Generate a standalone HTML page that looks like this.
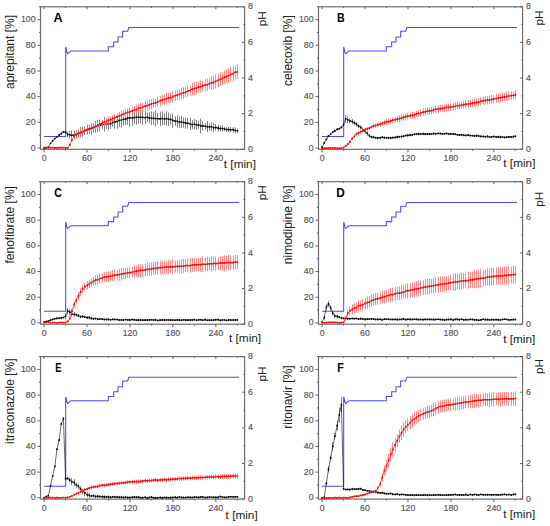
<!DOCTYPE html>
<html><head><meta charset="utf-8"><style>
html,body{margin:0;padding:0;background:#fff;}
svg{display:block;}
text{font-family:"Liberation Sans",sans-serif;}
.tl{font-size:8.8px;fill:#555;stroke:#555;stroke-width:0.15px;}
.xt{font-size:11.8px;fill:#222;}
.ph{font-size:11.8px;fill:#222;}
.yt{font-size:12px;fill:#222;}
.let{font-size:12.5px;font-weight:bold;fill:#000;}
</style></head><body>
<svg width="550" height="526" viewBox="0 0 550 526">
<rect width="550" height="526" fill="#fff"/>
<g transform="translate(0,0)">
<rect x="40.5" y="6.8" width="204.1" height="142.5" fill="none" stroke="#6e6e6e" stroke-width="1.2"/>
<path d="M37.5,148.00H40.5M39.0,135.16H40.5M37.5,122.32H40.5M39.0,109.49H40.5M37.5,96.65H40.5M39.0,83.81H40.5M37.5,70.97H40.5M39.0,58.13H40.5M37.5,45.30H40.5M39.0,32.46H40.5M37.5,19.62H40.5M39.0,6.78H40.5M242.1,149.30H244.6M243.3,131.49H244.6M242.1,113.68H244.6M243.3,95.86H244.6M242.1,78.05H244.6M243.3,60.24H244.6M242.1,42.43H244.6M243.3,24.61H244.6M242.1,6.80H244.6M44.08,149.3V152.3M44.08,6.8V9.2M65.55,149.3V150.8M65.55,6.8V8.0M87.03,149.3V152.3M87.03,6.8V9.2M108.50,149.3V150.8M108.50,6.8V8.0M129.98,149.3V152.3M129.98,6.8V9.2M151.45,149.3V150.8M151.45,6.8V8.0M172.92,149.3V152.3M172.92,6.8V9.2M194.40,149.3V150.8M194.40,6.8V8.0M215.87,149.3V152.3M215.87,6.8V9.2M237.35,149.3V150.8M237.35,6.8V8.0" stroke="#5e5e5e" stroke-width="1" fill="none"/>
<text x="35.6" y="150.5" text-anchor="end" class="tl">0</text>
<text x="35.6" y="124.8" text-anchor="end" class="tl">20</text>
<text x="35.6" y="99.1" text-anchor="end" class="tl">40</text>
<text x="35.6" y="73.5" text-anchor="end" class="tl">60</text>
<text x="35.6" y="47.8" text-anchor="end" class="tl">80</text>
<text x="35.6" y="22.1" text-anchor="end" class="tl">100</text>
<text x="44.1" y="160.8" text-anchor="middle" class="tl">0</text>
<text x="87.0" y="160.8" text-anchor="middle" class="tl">60</text>
<text x="130.0" y="160.8" text-anchor="middle" class="tl">120</text>
<text x="172.9" y="160.8" text-anchor="middle" class="tl">180</text>
<text x="215.9" y="160.8" text-anchor="middle" class="tl">240</text>
<text x="248" y="151.9" class="tl">0</text>
<text x="248" y="116.3" class="tl">2</text>
<text x="248" y="80.7" class="tl">4</text>
<text x="248" y="45.0" class="tl">6</text>
<text x="248" y="9.4" class="tl">8</text>
<text x="223.8" y="167.6" class="xt">t [min]</text>
<text transform="translate(265.75,18.7) rotate(-90)" text-anchor="middle" class="ph">pH</text>
<text transform="translate(13.6,52) rotate(-90)" text-anchor="middle" class="yt">aprepitant [%]</text>
<text transform="translate(53.5,22.15) scale(1.0,1)" class="let">A</text>
<path d="M44.0,136.4 L65.7,136.4 L65.7,47.0 L66.4,49.5 L67.0,52.5 L67.6,53.6 L68.6,53.0 L70.0,51.6 L71.2,50.9 L108.3,50.9 L108.3,46.7 L113.7,46.7 L113.7,42.0 L118.0,42.0 L118.0,37.0 L122.7,37.0 L122.7,31.3 L127.7,31.3 L128.8,27.5 L239.0,27.5" stroke="#4848ff" stroke-width="1.05" fill="none"/>
<path d="M52.5,140.02V141.32M54.5,137.74V139.37M56.5,136.16V137.50M59.5,134.29V135.91M61.5,132.40V134.94M63.5,130.81V133.08M65.5,130.80V133.53M67.5,131.74V137.36M69.5,131.05V138.61M71.5,130.49V140.10M74.5,130.37V139.42M76.5,130.11V138.24M78.5,129.39V137.36M80.5,127.06V137.50M82.5,126.92V137.00M84.5,126.22V135.04M87.5,125.09V134.66M89.5,124.69V134.02M91.5,123.19V134.80M93.5,123.34V132.49M95.5,120.98V132.54M97.5,119.72V132.19M99.5,119.40V131.35M102.5,120.02V129.61M104.5,117.11V131.52M106.5,118.82V129.27M108.5,117.19V130.34M110.5,118.13V128.96M112.5,117.94V126.74M114.5,115.15V128.82M117.5,114.36V128.50M119.5,113.61V127.16M121.5,112.68V127.37M123.5,113.16V125.47M125.5,113.08V125.11M127.5,111.46V124.86M129.5,108.42V126.93M132.5,110.15V125.88M134.5,111.45V123.83M136.5,109.69V124.66M138.5,111.08V123.46M140.5,111.18V123.56M142.5,109.64V125.16M145.5,111.64V123.76M147.5,112.64V121.95M149.5,112.28V123.39M151.5,111.53V124.96M153.5,111.62V125.08M155.5,110.52V126.56M157.5,113.00V124.37M160.5,111.55V126.26M162.5,111.56V125.38M164.5,112.87V125.20M166.5,111.38V125.77M168.5,112.56V126.00M170.5,114.30V124.60M172.5,113.39V127.74M175.5,116.46V125.72M177.5,115.29V127.13M179.5,116.33V127.88M181.5,115.90V128.15M183.5,117.79V127.55M185.5,117.63V128.63M187.5,117.99V128.62M190.5,117.63V130.30M192.5,120.08V129.15M194.5,119.01V129.57M196.5,120.15V129.93M198.5,121.27V129.00M200.5,118.58V133.19M202.5,121.23V130.63M205.5,122.93V129.66M207.5,121.07V132.15M209.5,123.41V130.27M211.5,122.45V131.14M213.5,123.21V132.23M215.5,124.13V130.72M218.5,124.81V131.38M220.5,125.44V131.55M222.5,125.35V131.63M224.5,126.87V131.18M226.5,127.33V131.80M228.5,126.99V132.27M230.5,126.75V132.79M233.5,127.00V132.31M235.5,127.51V133.32M237.5,128.52V133.13" stroke="#5a5a5a" stroke-width="0.75" fill="none"/>
<path d="M44.08,148.18 L46.23,147.65 L48.37,147.34 L50.52,143.30 L52.67,140.67 L54.82,138.56 L56.96,136.83 L59.11,135.10 L61.26,133.67 L63.41,131.95 L65.55,132.17 L67.70,134.55 L69.85,134.83 L72.00,135.29 L74.14,134.90 L76.29,134.17 L78.44,133.37 L80.59,132.28 L82.73,131.96 L84.88,130.63 L87.03,129.88 L89.18,129.36 L91.32,129.00 L93.47,127.92 L95.62,126.76 L97.77,125.95 L99.91,125.37 L102.06,124.82 L104.21,124.32 L106.35,124.05 L108.50,123.77 L110.65,123.55 L112.80,122.34 L114.94,121.99 L117.09,121.43 L119.24,120.38 L121.39,120.02 L123.53,119.31 L125.68,119.10 L127.83,118.16 L129.98,117.68 L132.12,118.02 L134.27,117.64 L136.42,117.18 L138.57,117.27 L140.71,117.37 L142.86,117.40 L145.01,117.70 L147.16,117.30 L149.30,117.83 L151.45,118.25 L153.60,118.35 L155.74,118.54 L157.89,118.68 L160.04,118.90 L162.19,118.47 L164.33,119.03 L166.48,118.58 L168.63,119.28 L170.78,119.45 L172.92,120.56 L175.07,121.09 L177.22,121.21 L179.37,122.10 L181.51,122.03 L183.66,122.67 L185.81,123.13 L187.96,123.30 L190.10,123.96 L192.25,124.62 L194.40,124.29 L196.55,125.04 L198.69,125.14 L200.84,125.88 L202.99,125.93 L205.13,126.30 L207.28,126.61 L209.43,126.84 L211.58,126.79 L213.72,127.72 L215.87,127.43 L218.02,128.10 L220.17,128.49 L222.31,128.49 L224.46,129.02 L226.61,129.57 L228.76,129.63 L230.90,129.77 L233.05,129.65 L235.20,130.41 L237.35,130.82" stroke="#000" stroke-width="0.6" fill="none" stroke-linejoin="round"/>
<path d="M43.28,147.38h1.6v1.6h-1.6zM45.43,146.85h1.6v1.6h-1.6zM47.57,146.54h1.6v1.6h-1.6zM49.72,142.50h1.6v1.6h-1.6zM51.87,139.87h1.6v1.6h-1.6zM54.02,137.76h1.6v1.6h-1.6zM56.16,136.03h1.6v1.6h-1.6zM58.31,134.30h1.6v1.6h-1.6zM60.46,132.87h1.6v1.6h-1.6zM62.61,131.15h1.6v1.6h-1.6zM64.75,131.37h1.6v1.6h-1.6zM66.90,133.75h1.6v1.6h-1.6zM69.05,134.03h1.6v1.6h-1.6zM71.20,134.49h1.6v1.6h-1.6zM73.34,134.10h1.6v1.6h-1.6zM75.49,133.37h1.6v1.6h-1.6zM77.64,132.57h1.6v1.6h-1.6zM79.79,131.48h1.6v1.6h-1.6zM81.93,131.16h1.6v1.6h-1.6zM84.08,129.83h1.6v1.6h-1.6zM86.23,129.08h1.6v1.6h-1.6zM88.38,128.56h1.6v1.6h-1.6zM90.52,128.20h1.6v1.6h-1.6zM92.67,127.12h1.6v1.6h-1.6zM94.82,125.96h1.6v1.6h-1.6zM96.97,125.15h1.6v1.6h-1.6zM99.11,124.57h1.6v1.6h-1.6zM101.26,124.02h1.6v1.6h-1.6zM103.41,123.52h1.6v1.6h-1.6zM105.55,123.25h1.6v1.6h-1.6zM107.70,122.97h1.6v1.6h-1.6zM109.85,122.75h1.6v1.6h-1.6zM112.00,121.54h1.6v1.6h-1.6zM114.14,121.19h1.6v1.6h-1.6zM116.29,120.63h1.6v1.6h-1.6zM118.44,119.58h1.6v1.6h-1.6zM120.59,119.22h1.6v1.6h-1.6zM122.73,118.51h1.6v1.6h-1.6zM124.88,118.30h1.6v1.6h-1.6zM127.03,117.36h1.6v1.6h-1.6zM129.18,116.88h1.6v1.6h-1.6zM131.32,117.22h1.6v1.6h-1.6zM133.47,116.84h1.6v1.6h-1.6zM135.62,116.38h1.6v1.6h-1.6zM137.77,116.47h1.6v1.6h-1.6zM139.91,116.57h1.6v1.6h-1.6zM142.06,116.60h1.6v1.6h-1.6zM144.21,116.90h1.6v1.6h-1.6zM146.36,116.50h1.6v1.6h-1.6zM148.50,117.03h1.6v1.6h-1.6zM150.65,117.45h1.6v1.6h-1.6zM152.80,117.55h1.6v1.6h-1.6zM154.94,117.74h1.6v1.6h-1.6zM157.09,117.88h1.6v1.6h-1.6zM159.24,118.10h1.6v1.6h-1.6zM161.39,117.67h1.6v1.6h-1.6zM163.53,118.23h1.6v1.6h-1.6zM165.68,117.78h1.6v1.6h-1.6zM167.83,118.48h1.6v1.6h-1.6zM169.98,118.65h1.6v1.6h-1.6zM172.12,119.76h1.6v1.6h-1.6zM174.27,120.29h1.6v1.6h-1.6zM176.42,120.41h1.6v1.6h-1.6zM178.57,121.30h1.6v1.6h-1.6zM180.71,121.23h1.6v1.6h-1.6zM182.86,121.87h1.6v1.6h-1.6zM185.01,122.33h1.6v1.6h-1.6zM187.16,122.50h1.6v1.6h-1.6zM189.30,123.16h1.6v1.6h-1.6zM191.45,123.82h1.6v1.6h-1.6zM193.60,123.49h1.6v1.6h-1.6zM195.75,124.24h1.6v1.6h-1.6zM197.89,124.34h1.6v1.6h-1.6zM200.04,125.08h1.6v1.6h-1.6zM202.19,125.13h1.6v1.6h-1.6zM204.33,125.50h1.6v1.6h-1.6zM206.48,125.81h1.6v1.6h-1.6zM208.63,126.04h1.6v1.6h-1.6zM210.78,125.99h1.6v1.6h-1.6zM212.92,126.92h1.6v1.6h-1.6zM215.07,126.63h1.6v1.6h-1.6zM217.22,127.30h1.6v1.6h-1.6zM219.37,127.69h1.6v1.6h-1.6zM221.51,127.69h1.6v1.6h-1.6zM223.66,128.22h1.6v1.6h-1.6zM225.81,128.77h1.6v1.6h-1.6zM227.96,128.83h1.6v1.6h-1.6zM230.10,128.97h1.6v1.6h-1.6zM232.25,128.85h1.6v1.6h-1.6zM234.40,129.61h1.6v1.6h-1.6zM236.55,130.02h1.6v1.6h-1.6z" fill="#000"/>
<path d="M69.5,143.53V146.08M71.5,138.10V142.06M74.5,133.84V137.99M76.5,132.61V136.98M78.5,131.33V136.07M80.5,130.04V135.09M82.5,129.26V133.74M84.5,128.11V132.88M87.5,127.22V132.02M89.5,126.38V131.31M91.5,125.57V130.51M93.5,124.41V130.04M95.5,123.55V128.91M97.5,121.94V128.22M99.5,121.06V127.33M102.5,120.19V126.06M104.5,119.11V125.16M106.5,118.36V124.73M108.5,116.61V123.85M110.5,116.32V122.99M112.5,115.12V121.74M114.5,113.98V121.31M117.5,113.05V120.73M119.5,112.12V119.59M121.5,110.75V119.32M123.5,109.95V118.17M125.5,108.93V117.43M127.5,108.37V116.51M129.5,107.23V115.91M132.5,106.72V115.54M134.5,106.04V114.10M136.5,104.86V114.27M138.5,103.80V112.42M140.5,102.94V112.55M142.5,102.57V111.57M145.5,100.79V111.58M147.5,100.61V110.66M149.5,99.61V110.01M151.5,98.65V109.17M153.5,98.52V108.00M155.5,98.33V107.39M157.5,96.66V106.81M160.5,95.56V106.43M162.5,94.87V105.41M164.5,93.99V104.98M166.5,92.95V104.11M168.5,92.97V102.92M170.5,92.09V103.08M172.5,90.60V102.59M175.5,90.41V101.10M177.5,90.06V100.03M179.5,88.86V99.90M181.5,87.91V98.91M183.5,87.06V98.64M185.5,86.47V97.39M187.5,85.25V96.82M190.5,85.34V95.66M192.5,83.03V95.22M194.5,82.27V94.98M196.5,81.70V94.33M198.5,81.59V92.63M200.5,80.36V92.62M202.5,80.48V90.89M205.5,78.67V91.25M207.5,78.46V91.00M209.5,77.63V89.74M211.5,76.29V89.42M213.5,75.74V88.92M215.5,74.33V88.21M218.5,73.71V87.22M220.5,72.53V86.28M222.5,72.41V84.84M224.5,70.63V83.76M226.5,69.66V83.43M228.5,68.24V82.72M230.5,67.09V81.53M233.5,65.82V81.52M235.5,65.34V79.47M237.5,64.42V79.19" stroke="#ff7b7b" stroke-width="0.9" fill="none"/>
<path d="M44.08,147.72 L46.23,147.78 L48.37,147.50 L50.52,147.66 L52.67,147.65 L54.82,147.84 L56.96,147.90 L59.11,147.72 L61.26,147.71 L63.41,147.57 L65.55,147.78 L67.70,147.84 L69.85,144.80 L72.00,140.08 L74.14,135.92 L76.29,134.80 L78.44,133.70 L80.59,132.56 L82.73,131.50 L84.88,130.49 L87.03,129.62 L89.18,128.85 L91.32,128.04 L93.47,127.23 L95.62,126.23 L97.77,125.08 L99.91,124.20 L102.06,123.12 L104.21,122.13 L106.35,121.55 L108.50,120.23 L110.65,119.66 L112.80,118.43 L114.94,117.64 L117.09,116.89 L119.24,115.86 L121.39,115.03 L123.53,114.06 L125.68,113.18 L127.83,112.44 L129.98,111.57 L132.12,111.13 L134.27,110.07 L136.42,109.56 L138.57,108.11 L140.71,107.75 L142.86,107.07 L145.01,106.18 L147.16,105.63 L149.30,104.81 L151.45,103.91 L153.60,103.26 L155.74,102.86 L157.89,101.74 L160.04,101.00 L162.19,100.14 L164.33,99.48 L166.48,98.53 L168.63,97.95 L170.78,97.59 L172.92,96.60 L175.07,95.76 L177.22,95.05 L179.37,94.38 L181.51,93.41 L183.66,92.85 L185.81,91.93 L187.96,91.03 L190.10,90.50 L192.25,89.12 L194.40,88.63 L196.55,88.01 L198.69,87.11 L200.84,86.49 L202.99,85.69 L205.13,84.96 L207.28,84.73 L209.43,83.69 L211.58,82.86 L213.72,82.33 L215.87,81.27 L218.02,80.46 L220.17,79.41 L222.31,78.63 L224.46,77.19 L226.61,76.55 L228.76,75.48 L230.90,74.31 L233.05,73.67 L235.20,72.40 L237.35,71.80" stroke="#f00" stroke-width="0.7" fill="none" stroke-linejoin="round"/>
<path d="M43.23,146.87h1.7v1.7h-1.7zM45.38,146.93h1.7v1.7h-1.7zM47.52,146.65h1.7v1.7h-1.7zM49.67,146.81h1.7v1.7h-1.7zM51.82,146.80h1.7v1.7h-1.7zM53.97,146.99h1.7v1.7h-1.7zM56.11,147.05h1.7v1.7h-1.7zM58.26,146.87h1.7v1.7h-1.7zM60.41,146.86h1.7v1.7h-1.7zM62.56,146.72h1.7v1.7h-1.7zM64.70,146.93h1.7v1.7h-1.7zM66.85,146.99h1.7v1.7h-1.7zM69.00,143.95h1.7v1.7h-1.7zM71.15,139.23h1.7v1.7h-1.7zM73.29,135.07h1.7v1.7h-1.7zM75.44,133.95h1.7v1.7h-1.7zM77.59,132.85h1.7v1.7h-1.7zM79.74,131.71h1.7v1.7h-1.7zM81.88,130.65h1.7v1.7h-1.7zM84.03,129.64h1.7v1.7h-1.7zM86.18,128.77h1.7v1.7h-1.7zM88.33,128.00h1.7v1.7h-1.7zM90.47,127.19h1.7v1.7h-1.7zM92.62,126.38h1.7v1.7h-1.7zM94.77,125.38h1.7v1.7h-1.7zM96.92,124.23h1.7v1.7h-1.7zM99.06,123.35h1.7v1.7h-1.7zM101.21,122.27h1.7v1.7h-1.7zM103.36,121.28h1.7v1.7h-1.7zM105.50,120.70h1.7v1.7h-1.7zM107.65,119.38h1.7v1.7h-1.7zM109.80,118.81h1.7v1.7h-1.7zM111.95,117.58h1.7v1.7h-1.7zM114.09,116.79h1.7v1.7h-1.7zM116.24,116.04h1.7v1.7h-1.7zM118.39,115.01h1.7v1.7h-1.7zM120.54,114.18h1.7v1.7h-1.7zM122.68,113.21h1.7v1.7h-1.7zM124.83,112.33h1.7v1.7h-1.7zM126.98,111.59h1.7v1.7h-1.7zM129.13,110.72h1.7v1.7h-1.7zM131.27,110.28h1.7v1.7h-1.7zM133.42,109.22h1.7v1.7h-1.7zM135.57,108.71h1.7v1.7h-1.7zM137.72,107.26h1.7v1.7h-1.7zM139.86,106.90h1.7v1.7h-1.7zM142.01,106.22h1.7v1.7h-1.7zM144.16,105.33h1.7v1.7h-1.7zM146.31,104.78h1.7v1.7h-1.7zM148.45,103.96h1.7v1.7h-1.7zM150.60,103.06h1.7v1.7h-1.7zM152.75,102.41h1.7v1.7h-1.7zM154.89,102.01h1.7v1.7h-1.7zM157.04,100.89h1.7v1.7h-1.7zM159.19,100.15h1.7v1.7h-1.7zM161.34,99.29h1.7v1.7h-1.7zM163.48,98.63h1.7v1.7h-1.7zM165.63,97.68h1.7v1.7h-1.7zM167.78,97.10h1.7v1.7h-1.7zM169.93,96.74h1.7v1.7h-1.7zM172.07,95.75h1.7v1.7h-1.7zM174.22,94.91h1.7v1.7h-1.7zM176.37,94.20h1.7v1.7h-1.7zM178.52,93.53h1.7v1.7h-1.7zM180.66,92.56h1.7v1.7h-1.7zM182.81,92.00h1.7v1.7h-1.7zM184.96,91.08h1.7v1.7h-1.7zM187.11,90.18h1.7v1.7h-1.7zM189.25,89.65h1.7v1.7h-1.7zM191.40,88.27h1.7v1.7h-1.7zM193.55,87.78h1.7v1.7h-1.7zM195.70,87.16h1.7v1.7h-1.7zM197.84,86.26h1.7v1.7h-1.7zM199.99,85.64h1.7v1.7h-1.7zM202.14,84.84h1.7v1.7h-1.7zM204.28,84.11h1.7v1.7h-1.7zM206.43,83.88h1.7v1.7h-1.7zM208.58,82.84h1.7v1.7h-1.7zM210.73,82.01h1.7v1.7h-1.7zM212.87,81.48h1.7v1.7h-1.7zM215.02,80.42h1.7v1.7h-1.7zM217.17,79.61h1.7v1.7h-1.7zM219.32,78.56h1.7v1.7h-1.7zM221.46,77.78h1.7v1.7h-1.7zM223.61,76.34h1.7v1.7h-1.7zM225.76,75.70h1.7v1.7h-1.7zM227.91,74.63h1.7v1.7h-1.7zM230.05,73.46h1.7v1.7h-1.7zM232.20,72.82h1.7v1.7h-1.7zM234.35,71.55h1.7v1.7h-1.7zM236.50,70.95h1.7v1.7h-1.7z" fill="#f00"/>
</g>
<g transform="translate(278,0)">
<rect x="40.5" y="6.8" width="204.1" height="142.5" fill="none" stroke="#6e6e6e" stroke-width="1.2"/>
<path d="M37.5,148.00H40.5M39.0,135.16H40.5M37.5,122.32H40.5M39.0,109.49H40.5M37.5,96.65H40.5M39.0,83.81H40.5M37.5,70.97H40.5M39.0,58.13H40.5M37.5,45.30H40.5M39.0,32.46H40.5M37.5,19.62H40.5M39.0,6.78H40.5M242.1,149.30H244.6M243.3,131.49H244.6M242.1,113.68H244.6M243.3,95.86H244.6M242.1,78.05H244.6M243.3,60.24H244.6M242.1,42.43H244.6M243.3,24.61H244.6M242.1,6.80H244.6M44.08,149.3V152.3M44.08,6.8V9.2M65.55,149.3V150.8M65.55,6.8V8.0M87.03,149.3V152.3M87.03,6.8V9.2M108.50,149.3V150.8M108.50,6.8V8.0M129.98,149.3V152.3M129.98,6.8V9.2M151.45,149.3V150.8M151.45,6.8V8.0M172.92,149.3V152.3M172.92,6.8V9.2M194.40,149.3V150.8M194.40,6.8V8.0M215.87,149.3V152.3M215.87,6.8V9.2M237.35,149.3V150.8M237.35,6.8V8.0" stroke="#5e5e5e" stroke-width="1" fill="none"/>
<text x="35.6" y="150.5" text-anchor="end" class="tl">0</text>
<text x="35.6" y="124.8" text-anchor="end" class="tl">20</text>
<text x="35.6" y="99.1" text-anchor="end" class="tl">40</text>
<text x="35.6" y="73.5" text-anchor="end" class="tl">60</text>
<text x="35.6" y="47.8" text-anchor="end" class="tl">80</text>
<text x="35.6" y="22.1" text-anchor="end" class="tl">100</text>
<text x="44.1" y="160.8" text-anchor="middle" class="tl">0</text>
<text x="87.0" y="160.8" text-anchor="middle" class="tl">60</text>
<text x="130.0" y="160.8" text-anchor="middle" class="tl">120</text>
<text x="172.9" y="160.8" text-anchor="middle" class="tl">180</text>
<text x="215.9" y="160.8" text-anchor="middle" class="tl">240</text>
<text x="248" y="151.9" class="tl">0</text>
<text x="248" y="116.3" class="tl">2</text>
<text x="248" y="80.7" class="tl">4</text>
<text x="248" y="45.0" class="tl">6</text>
<text x="248" y="9.4" class="tl">8</text>
<text x="225.3" y="166.6" class="xt">t [min]</text>
<text transform="translate(264.85,17.95) rotate(-90)" text-anchor="middle" class="ph">pH</text>
<text transform="translate(13.6,50.6) rotate(-90)" text-anchor="middle" class="yt">celecoxib [%]</text>
<text transform="translate(59.0,22.15) scale(0.85,1)" class="let">B</text>
<path d="M44.0,136.4 L65.7,136.4 L65.7,47.0 L66.4,49.5 L67.0,52.5 L67.6,53.6 L68.6,53.0 L70.0,51.6 L71.2,50.9 L108.3,50.9 L108.3,46.7 L113.7,46.7 L113.7,42.0 L118.0,42.0 L118.0,37.0 L122.7,37.0 L122.7,31.3 L127.7,31.3 L128.8,27.5 L239.0,27.5" stroke="#4848ff" stroke-width="1.05" fill="none"/>
<path d="M44.5,146.52V147.76M48.5,138.76V140.04M50.5,135.12V136.61M52.5,133.52V134.90M54.5,130.99V132.87M56.5,129.31V132.38M59.5,128.30V130.40M61.5,127.46V130.19M63.5,126.15V128.51M65.5,122.45V126.50M67.5,114.99V122.55M69.5,116.45V123.13M71.5,118.40V123.35M74.5,118.82V124.21M76.5,120.55V124.97M78.5,122.02V126.32M80.5,124.14V128.17M82.5,125.45V129.34M84.5,127.33V132.04M87.5,128.98V133.69M89.5,131.21V135.64M91.5,133.91V137.58M93.5,135.63V138.23M95.5,135.68V138.74M97.5,136.59V138.89M99.5,136.54V139.34M102.5,136.51V139.14M104.5,135.87V138.58M106.5,136.54V138.77M108.5,136.90V138.50M110.5,136.47V139.24M112.5,136.55V139.44M114.5,136.76V138.49M117.5,136.22V138.63M119.5,135.46V138.30M121.5,135.81V137.69M123.5,135.01V138.08M125.5,135.20V137.38M127.5,134.52V136.39M129.5,133.90V136.79M132.5,133.90V136.33M134.5,133.97V136.00M136.5,132.94V135.60M138.5,133.28V134.77M140.5,132.42V135.45M142.5,132.98V134.92M145.5,132.63V135.02M147.5,133.04V135.14M149.5,132.87V135.30M151.5,132.64V135.25M153.5,133.04V134.95M155.5,132.29V134.85M157.5,132.64V134.75M160.5,132.49V134.44M162.5,132.46V134.59M164.5,133.01V134.82M166.5,132.82V134.72M168.5,132.21V134.79M170.5,132.92V135.05M172.5,132.70V135.34M175.5,132.80V135.15M177.5,133.38V135.15M179.5,134.08V135.51M181.5,134.16V136.06M183.5,133.66V135.92M185.5,134.20V136.36M187.5,134.56V136.39M190.5,133.85V136.38M192.5,134.79V136.25M194.5,134.86V136.50M196.5,134.80V136.97M198.5,134.14V137.09M200.5,134.86V137.12M202.5,135.54V137.26M205.5,135.39V137.71M207.5,135.60V137.95M209.5,135.18V137.61M211.5,136.02V137.95M213.5,135.93V137.71M215.5,135.42V137.53M218.5,135.92V138.13M220.5,135.53V138.18M222.5,135.71V138.53M224.5,136.18V137.95M226.5,136.50V138.34M228.5,136.17V138.18M230.5,135.91V137.84M233.5,135.88V138.07M235.5,135.55V137.73M237.5,135.27V137.36" stroke="#5a5a5a" stroke-width="0.75" fill="none"/>
<path d="M44.08,147.14 L46.23,143.14 L48.37,139.40 L50.52,135.87 L52.67,134.21 L54.82,131.93 L56.96,130.85 L59.11,129.35 L61.26,128.82 L63.41,127.33 L65.55,124.48 L67.70,118.77 L69.85,119.79 L72.00,120.88 L74.14,121.52 L76.29,122.76 L78.44,124.17 L80.59,126.16 L82.73,127.39 L84.88,129.69 L87.03,131.33 L89.18,133.42 L91.32,135.74 L93.47,136.93 L95.62,137.21 L97.77,137.74 L99.91,137.94 L102.06,137.82 L104.21,137.23 L106.35,137.65 L108.50,137.70 L110.65,137.85 L112.80,138.00 L114.94,137.62 L117.09,137.43 L119.24,136.88 L121.39,136.75 L123.53,136.54 L125.68,136.29 L127.83,135.46 L129.98,135.35 L132.12,135.11 L134.27,134.98 L136.42,134.27 L138.57,134.02 L140.71,133.93 L142.86,133.95 L145.01,133.82 L147.16,134.09 L149.30,134.08 L151.45,133.95 L153.60,133.99 L155.74,133.57 L157.89,133.70 L160.04,133.47 L162.19,133.52 L164.33,133.91 L166.48,133.77 L168.63,133.50 L170.78,133.99 L172.92,134.02 L175.07,133.97 L177.22,134.27 L179.37,134.80 L181.51,135.11 L183.66,134.79 L185.81,135.28 L187.96,135.47 L190.10,135.12 L192.25,135.52 L194.40,135.68 L196.55,135.88 L198.69,135.62 L200.84,135.99 L202.99,136.40 L205.13,136.55 L207.28,136.77 L209.43,136.40 L211.58,136.98 L213.72,136.82 L215.87,136.48 L218.02,137.02 L220.17,136.85 L222.31,137.12 L224.46,137.06 L226.61,137.42 L228.76,137.18 L230.90,136.88 L233.05,136.97 L235.20,136.64 L237.35,136.31" stroke="#000" stroke-width="0.6" fill="none" stroke-linejoin="round"/>
<path d="M43.28,146.34h1.6v1.6h-1.6zM45.43,142.34h1.6v1.6h-1.6zM47.57,138.60h1.6v1.6h-1.6zM49.72,135.07h1.6v1.6h-1.6zM51.87,133.41h1.6v1.6h-1.6zM54.02,131.13h1.6v1.6h-1.6zM56.16,130.05h1.6v1.6h-1.6zM58.31,128.55h1.6v1.6h-1.6zM60.46,128.02h1.6v1.6h-1.6zM62.61,126.53h1.6v1.6h-1.6zM64.75,123.68h1.6v1.6h-1.6zM66.90,117.97h1.6v1.6h-1.6zM69.05,118.99h1.6v1.6h-1.6zM71.20,120.08h1.6v1.6h-1.6zM73.34,120.72h1.6v1.6h-1.6zM75.49,121.96h1.6v1.6h-1.6zM77.64,123.37h1.6v1.6h-1.6zM79.79,125.36h1.6v1.6h-1.6zM81.93,126.59h1.6v1.6h-1.6zM84.08,128.89h1.6v1.6h-1.6zM86.23,130.53h1.6v1.6h-1.6zM88.38,132.62h1.6v1.6h-1.6zM90.52,134.94h1.6v1.6h-1.6zM92.67,136.13h1.6v1.6h-1.6zM94.82,136.41h1.6v1.6h-1.6zM96.97,136.94h1.6v1.6h-1.6zM99.11,137.14h1.6v1.6h-1.6zM101.26,137.02h1.6v1.6h-1.6zM103.41,136.43h1.6v1.6h-1.6zM105.55,136.85h1.6v1.6h-1.6zM107.70,136.90h1.6v1.6h-1.6zM109.85,137.05h1.6v1.6h-1.6zM112.00,137.20h1.6v1.6h-1.6zM114.14,136.82h1.6v1.6h-1.6zM116.29,136.63h1.6v1.6h-1.6zM118.44,136.08h1.6v1.6h-1.6zM120.59,135.95h1.6v1.6h-1.6zM122.73,135.74h1.6v1.6h-1.6zM124.88,135.49h1.6v1.6h-1.6zM127.03,134.66h1.6v1.6h-1.6zM129.18,134.55h1.6v1.6h-1.6zM131.32,134.31h1.6v1.6h-1.6zM133.47,134.18h1.6v1.6h-1.6zM135.62,133.47h1.6v1.6h-1.6zM137.77,133.22h1.6v1.6h-1.6zM139.91,133.13h1.6v1.6h-1.6zM142.06,133.15h1.6v1.6h-1.6zM144.21,133.02h1.6v1.6h-1.6zM146.36,133.29h1.6v1.6h-1.6zM148.50,133.28h1.6v1.6h-1.6zM150.65,133.15h1.6v1.6h-1.6zM152.80,133.19h1.6v1.6h-1.6zM154.94,132.77h1.6v1.6h-1.6zM157.09,132.90h1.6v1.6h-1.6zM159.24,132.67h1.6v1.6h-1.6zM161.39,132.72h1.6v1.6h-1.6zM163.53,133.11h1.6v1.6h-1.6zM165.68,132.97h1.6v1.6h-1.6zM167.83,132.70h1.6v1.6h-1.6zM169.98,133.19h1.6v1.6h-1.6zM172.12,133.22h1.6v1.6h-1.6zM174.27,133.17h1.6v1.6h-1.6zM176.42,133.47h1.6v1.6h-1.6zM178.57,134.00h1.6v1.6h-1.6zM180.71,134.31h1.6v1.6h-1.6zM182.86,133.99h1.6v1.6h-1.6zM185.01,134.48h1.6v1.6h-1.6zM187.16,134.67h1.6v1.6h-1.6zM189.30,134.32h1.6v1.6h-1.6zM191.45,134.72h1.6v1.6h-1.6zM193.60,134.88h1.6v1.6h-1.6zM195.75,135.08h1.6v1.6h-1.6zM197.89,134.82h1.6v1.6h-1.6zM200.04,135.19h1.6v1.6h-1.6zM202.19,135.60h1.6v1.6h-1.6zM204.33,135.75h1.6v1.6h-1.6zM206.48,135.97h1.6v1.6h-1.6zM208.63,135.60h1.6v1.6h-1.6zM210.78,136.18h1.6v1.6h-1.6zM212.92,136.02h1.6v1.6h-1.6zM215.07,135.68h1.6v1.6h-1.6zM217.22,136.22h1.6v1.6h-1.6zM219.37,136.05h1.6v1.6h-1.6zM221.51,136.32h1.6v1.6h-1.6zM223.66,136.26h1.6v1.6h-1.6zM225.81,136.62h1.6v1.6h-1.6zM227.96,136.38h1.6v1.6h-1.6zM230.10,136.08h1.6v1.6h-1.6zM232.25,136.17h1.6v1.6h-1.6zM234.40,135.84h1.6v1.6h-1.6zM236.55,135.51h1.6v1.6h-1.6z" fill="#000"/>
<path d="M67.5,144.77V146.83M69.5,142.83V145.53M71.5,140.51V143.66M74.5,136.95V140.34M76.5,134.60V138.13M78.5,132.29V135.70M80.5,130.82V134.84M82.5,129.77V133.60M84.5,129.01V132.70M87.5,127.54V131.71M89.5,127.00V130.87M91.5,125.98V130.38M93.5,124.94V129.01M95.5,123.86V128.50M97.5,123.26V127.71M99.5,122.29V127.27M102.5,121.70V126.71M104.5,120.94V126.01M106.5,120.10V125.19M108.5,119.21V124.70M110.5,119.11V123.96M112.5,118.15V123.72M114.5,117.28V122.97M117.5,116.79V122.64M119.5,116.15V122.20M121.5,115.18V122.22M123.5,114.77V120.86M125.5,114.25V120.68M127.5,113.45V119.80M129.5,112.69V119.62M132.5,112.68V118.57M134.5,111.66V118.90M136.5,111.69V118.25M138.5,110.86V116.99M140.5,110.09V116.73M142.5,109.49V116.49M145.5,108.56V115.73M147.5,108.40V115.53M149.5,107.43V114.91M151.5,107.49V114.72M153.5,106.96V114.21M155.5,106.68V113.22M157.5,105.48V113.03M160.5,105.32V113.11M162.5,105.03V112.33M164.5,104.95V111.74M166.5,104.58V111.62M168.5,103.33V111.55M170.5,103.74V111.15M172.5,103.47V110.89M175.5,102.98V110.39M177.5,102.25V110.28M179.5,101.91V109.49M181.5,101.79V109.30M183.5,101.43V108.74M185.5,100.71V108.61M187.5,99.99V108.37M190.5,100.01V107.98M192.5,99.44V107.88M194.5,99.04V107.23M196.5,98.71V106.93M198.5,98.33V106.61M200.5,97.95V106.22M202.5,97.10V105.82M205.5,96.70V105.25M207.5,96.45V104.60M209.5,95.92V104.41M211.5,95.61V104.05M213.5,95.10V103.83M215.5,94.52V103.16M218.5,94.12V102.91M220.5,93.93V101.94M222.5,93.44V102.30M224.5,92.56V101.87M226.5,92.82V101.02M228.5,91.58V101.12M230.5,91.51V100.51M233.5,91.13V99.96M235.5,91.42V99.57M237.5,90.21V99.70" stroke="#ff7b7b" stroke-width="0.9" fill="none"/>
<path d="M44.08,148.40 L46.23,148.18 L48.37,148.04 L50.52,147.97 L52.67,148.05 L54.82,148.04 L56.96,147.92 L59.11,148.30 L61.26,148.23 L63.41,148.14 L65.55,147.62 L67.70,145.80 L69.85,144.18 L72.00,142.08 L74.14,138.65 L76.29,136.36 L78.44,133.99 L80.59,132.83 L82.73,131.69 L84.88,130.85 L87.03,129.63 L89.18,128.93 L91.32,128.18 L93.47,126.98 L95.62,126.18 L97.77,125.49 L99.91,124.78 L102.06,124.20 L104.21,123.48 L106.35,122.65 L108.50,121.96 L110.65,121.53 L112.80,120.93 L114.94,120.13 L117.09,119.72 L119.24,119.18 L121.39,118.70 L123.53,117.81 L125.68,117.46 L127.83,116.62 L129.98,116.15 L132.12,115.62 L134.27,115.28 L136.42,114.97 L138.57,113.93 L140.71,113.41 L142.86,112.99 L145.01,112.14 L147.16,111.97 L149.30,111.17 L151.45,111.11 L153.60,110.58 L155.74,109.95 L157.89,109.26 L160.04,109.21 L162.19,108.68 L164.33,108.35 L166.48,108.10 L168.63,107.44 L170.78,107.44 L172.92,107.18 L175.07,106.69 L177.22,106.26 L179.37,105.70 L181.51,105.55 L183.66,105.08 L185.81,104.66 L187.96,104.18 L190.10,104.00 L192.25,103.66 L194.40,103.14 L196.55,102.82 L198.69,102.47 L200.84,102.09 L202.99,101.46 L205.13,100.97 L207.28,100.52 L209.43,100.17 L211.58,99.83 L213.72,99.46 L215.87,98.84 L218.02,98.52 L220.17,97.94 L222.31,97.87 L224.46,97.22 L226.61,96.92 L228.76,96.35 L230.90,96.01 L233.05,95.54 L235.20,95.50 L237.35,94.95" stroke="#f00" stroke-width="0.7" fill="none" stroke-linejoin="round"/>
<path d="M43.23,147.55h1.7v1.7h-1.7zM45.38,147.33h1.7v1.7h-1.7zM47.52,147.19h1.7v1.7h-1.7zM49.67,147.12h1.7v1.7h-1.7zM51.82,147.20h1.7v1.7h-1.7zM53.97,147.19h1.7v1.7h-1.7zM56.11,147.07h1.7v1.7h-1.7zM58.26,147.45h1.7v1.7h-1.7zM60.41,147.38h1.7v1.7h-1.7zM62.56,147.29h1.7v1.7h-1.7zM64.70,146.77h1.7v1.7h-1.7zM66.85,144.95h1.7v1.7h-1.7zM69.00,143.33h1.7v1.7h-1.7zM71.15,141.23h1.7v1.7h-1.7zM73.29,137.80h1.7v1.7h-1.7zM75.44,135.51h1.7v1.7h-1.7zM77.59,133.14h1.7v1.7h-1.7zM79.74,131.98h1.7v1.7h-1.7zM81.88,130.84h1.7v1.7h-1.7zM84.03,130.00h1.7v1.7h-1.7zM86.18,128.78h1.7v1.7h-1.7zM88.33,128.08h1.7v1.7h-1.7zM90.47,127.33h1.7v1.7h-1.7zM92.62,126.13h1.7v1.7h-1.7zM94.77,125.33h1.7v1.7h-1.7zM96.92,124.64h1.7v1.7h-1.7zM99.06,123.93h1.7v1.7h-1.7zM101.21,123.35h1.7v1.7h-1.7zM103.36,122.63h1.7v1.7h-1.7zM105.50,121.80h1.7v1.7h-1.7zM107.65,121.11h1.7v1.7h-1.7zM109.80,120.68h1.7v1.7h-1.7zM111.95,120.08h1.7v1.7h-1.7zM114.09,119.28h1.7v1.7h-1.7zM116.24,118.87h1.7v1.7h-1.7zM118.39,118.33h1.7v1.7h-1.7zM120.54,117.85h1.7v1.7h-1.7zM122.68,116.96h1.7v1.7h-1.7zM124.83,116.61h1.7v1.7h-1.7zM126.98,115.77h1.7v1.7h-1.7zM129.13,115.30h1.7v1.7h-1.7zM131.27,114.77h1.7v1.7h-1.7zM133.42,114.43h1.7v1.7h-1.7zM135.57,114.12h1.7v1.7h-1.7zM137.72,113.08h1.7v1.7h-1.7zM139.86,112.56h1.7v1.7h-1.7zM142.01,112.14h1.7v1.7h-1.7zM144.16,111.29h1.7v1.7h-1.7zM146.31,111.12h1.7v1.7h-1.7zM148.45,110.32h1.7v1.7h-1.7zM150.60,110.26h1.7v1.7h-1.7zM152.75,109.73h1.7v1.7h-1.7zM154.89,109.10h1.7v1.7h-1.7zM157.04,108.41h1.7v1.7h-1.7zM159.19,108.36h1.7v1.7h-1.7zM161.34,107.83h1.7v1.7h-1.7zM163.48,107.50h1.7v1.7h-1.7zM165.63,107.25h1.7v1.7h-1.7zM167.78,106.59h1.7v1.7h-1.7zM169.93,106.59h1.7v1.7h-1.7zM172.07,106.33h1.7v1.7h-1.7zM174.22,105.84h1.7v1.7h-1.7zM176.37,105.41h1.7v1.7h-1.7zM178.52,104.85h1.7v1.7h-1.7zM180.66,104.70h1.7v1.7h-1.7zM182.81,104.23h1.7v1.7h-1.7zM184.96,103.81h1.7v1.7h-1.7zM187.11,103.33h1.7v1.7h-1.7zM189.25,103.15h1.7v1.7h-1.7zM191.40,102.81h1.7v1.7h-1.7zM193.55,102.29h1.7v1.7h-1.7zM195.70,101.97h1.7v1.7h-1.7zM197.84,101.62h1.7v1.7h-1.7zM199.99,101.24h1.7v1.7h-1.7zM202.14,100.61h1.7v1.7h-1.7zM204.28,100.12h1.7v1.7h-1.7zM206.43,99.67h1.7v1.7h-1.7zM208.58,99.32h1.7v1.7h-1.7zM210.73,98.98h1.7v1.7h-1.7zM212.87,98.61h1.7v1.7h-1.7zM215.02,97.99h1.7v1.7h-1.7zM217.17,97.67h1.7v1.7h-1.7zM219.32,97.09h1.7v1.7h-1.7zM221.46,97.02h1.7v1.7h-1.7zM223.61,96.37h1.7v1.7h-1.7zM225.76,96.07h1.7v1.7h-1.7zM227.91,95.50h1.7v1.7h-1.7zM230.05,95.16h1.7v1.7h-1.7zM232.20,94.69h1.7v1.7h-1.7zM234.35,94.65h1.7v1.7h-1.7zM236.50,94.10h1.7v1.7h-1.7z" fill="#f00"/>
</g>
<g transform="translate(0,174.9)">
<rect x="40.5" y="6.8" width="204.1" height="142.5" fill="none" stroke="#6e6e6e" stroke-width="1.2"/>
<path d="M37.5,148.00H40.5M39.0,135.16H40.5M37.5,122.32H40.5M39.0,109.49H40.5M37.5,96.65H40.5M39.0,83.81H40.5M37.5,70.97H40.5M39.0,58.13H40.5M37.5,45.30H40.5M39.0,32.46H40.5M37.5,19.62H40.5M39.0,6.78H40.5M242.1,149.30H244.6M243.3,131.49H244.6M242.1,113.68H244.6M243.3,95.86H244.6M242.1,78.05H244.6M243.3,60.24H244.6M242.1,42.43H244.6M243.3,24.61H244.6M242.1,6.80H244.6M44.08,149.3V152.3M44.08,6.8V9.2M65.55,149.3V150.8M65.55,6.8V8.0M87.03,149.3V152.3M87.03,6.8V9.2M108.50,149.3V150.8M108.50,6.8V8.0M129.98,149.3V152.3M129.98,6.8V9.2M151.45,149.3V150.8M151.45,6.8V8.0M172.92,149.3V152.3M172.92,6.8V9.2M194.40,149.3V150.8M194.40,6.8V8.0M215.87,149.3V152.3M215.87,6.8V9.2M237.35,149.3V150.8M237.35,6.8V8.0" stroke="#5e5e5e" stroke-width="1" fill="none"/>
<text x="35.6" y="150.5" text-anchor="end" class="tl">0</text>
<text x="35.6" y="124.8" text-anchor="end" class="tl">20</text>
<text x="35.6" y="99.1" text-anchor="end" class="tl">40</text>
<text x="35.6" y="73.5" text-anchor="end" class="tl">60</text>
<text x="35.6" y="47.8" text-anchor="end" class="tl">80</text>
<text x="35.6" y="22.1" text-anchor="end" class="tl">100</text>
<text x="44.1" y="160.8" text-anchor="middle" class="tl">0</text>
<text x="87.0" y="160.8" text-anchor="middle" class="tl">60</text>
<text x="130.0" y="160.8" text-anchor="middle" class="tl">120</text>
<text x="172.9" y="160.8" text-anchor="middle" class="tl">180</text>
<text x="215.9" y="160.8" text-anchor="middle" class="tl">240</text>
<text x="248" y="151.9" class="tl">0</text>
<text x="248" y="116.3" class="tl">2</text>
<text x="248" y="80.7" class="tl">4</text>
<text x="248" y="45.0" class="tl">6</text>
<text x="248" y="9.4" class="tl">8</text>
<text x="229" y="167.3" class="xt">t [min]</text>
<text transform="translate(265.65,17.85) rotate(-90)" text-anchor="middle" class="ph">pH</text>
<text transform="translate(14.3,49.9) rotate(-90)" text-anchor="middle" class="yt">fenofibrate [%]</text>
<text transform="translate(54.2,22.45) scale(0.85,1)" class="let">C</text>
<path d="M44.0,136.4 L65.7,136.4 L65.7,47.0 L66.4,49.5 L67.0,52.5 L67.6,53.6 L68.6,53.0 L70.0,51.6 L71.2,50.9 L108.3,50.9 L108.3,46.7 L113.7,46.7 L113.7,42.0 L118.0,42.0 L118.0,37.0 L122.7,37.0 L122.7,31.3 L127.7,31.3 L128.8,27.5 L239.0,27.5" stroke="#4848ff" stroke-width="1.05" fill="none"/>
<path d="M46.5,145.87V147.24M48.5,145.47V146.86M54.5,143.00V144.63M56.5,142.71V144.33M59.5,142.51V144.15M61.5,141.84V144.05M63.5,141.94V143.27M65.5,138.29V144.50M67.5,133.16V138.93M69.5,134.38V140.07M71.5,136.71V141.64M74.5,137.08V141.98M76.5,137.97V141.60M78.5,139.20V142.21M80.5,140.14V143.53M82.5,140.08V143.03M84.5,141.06V143.19M87.5,141.04V144.33M89.5,141.17V144.27M91.5,141.95V145.02M93.5,142.72V145.08M95.5,142.46V144.81M97.5,143.36V145.33M99.5,143.30V144.95M102.5,143.17V145.19M104.5,143.51V145.56M106.5,143.74V145.49M108.5,143.20V145.83M110.5,144.21V145.61M112.5,143.64V145.32M114.5,143.78V145.50M117.5,143.41V145.81M119.5,144.11V145.97M121.5,144.16V145.98M123.5,144.25V145.88M125.5,143.83V145.49M127.5,144.26V145.73M129.5,143.96V146.22M132.5,143.60V145.72M134.5,143.74V145.98M136.5,144.37V146.04M138.5,143.87V146.61M140.5,144.38V145.93M145.5,144.29V146.06M147.5,144.19V146.09M149.5,144.03V146.14M151.5,144.16V145.68M153.5,144.04V146.08M155.5,143.83V146.23M157.5,144.85V146.40M160.5,144.39V145.97M162.5,144.49V145.75M164.5,144.13V146.02M166.5,144.06V146.14M168.5,144.04V146.09M170.5,144.22V146.28M172.5,144.00V146.25M175.5,144.40V146.23M177.5,143.94V146.03M179.5,144.48V145.95M181.5,144.58V146.09M183.5,143.97V145.81M185.5,144.44V145.93M187.5,144.24V146.17M190.5,143.99V146.16M192.5,144.12V145.98M194.5,144.00V145.50M196.5,144.67V146.15M198.5,143.89V146.02M200.5,144.16V145.62M202.5,144.44V146.17M205.5,143.96V145.57M207.5,144.53V146.23M209.5,144.26V146.27M211.5,144.55V146.06M213.5,144.52V145.76M215.5,143.86V145.96M218.5,143.90V145.63M220.5,144.57V146.44M222.5,144.26V145.90M224.5,144.14V146.01M226.5,144.53V146.54M228.5,144.04V146.07M230.5,144.37V145.91M233.5,144.39V145.90M235.5,144.31V146.03M237.5,144.14V145.80" stroke="#5a5a5a" stroke-width="0.75" fill="none"/>
<path d="M44.08,147.08 L46.23,146.55 L48.37,146.16 L50.52,145.18 L52.67,144.52 L54.82,143.82 L56.96,143.52 L59.11,143.33 L61.26,142.95 L63.41,142.60 L65.55,141.40 L67.70,136.05 L69.85,137.22 L72.00,139.17 L74.14,139.53 L76.29,139.79 L78.44,140.71 L80.59,141.84 L82.73,141.55 L84.88,142.13 L87.03,142.68 L89.18,142.72 L91.32,143.49 L93.47,143.90 L95.62,143.64 L97.77,144.35 L99.91,144.13 L102.06,144.18 L104.21,144.54 L106.35,144.62 L108.50,144.51 L110.65,144.91 L112.80,144.48 L114.94,144.64 L117.09,144.61 L119.24,145.04 L121.39,145.07 L123.53,145.07 L125.68,144.66 L127.83,145.00 L129.98,145.09 L132.12,144.66 L134.27,144.86 L136.42,145.20 L138.57,145.24 L140.71,145.16 L142.86,145.22 L145.01,145.18 L147.16,145.14 L149.30,145.09 L151.45,144.92 L153.60,145.06 L155.74,145.03 L157.89,145.63 L160.04,145.18 L162.19,145.12 L164.33,145.07 L166.48,145.10 L168.63,145.07 L170.78,145.25 L172.92,145.13 L175.07,145.31 L177.22,144.99 L179.37,145.22 L181.51,145.34 L183.66,144.89 L185.81,145.18 L187.96,145.20 L190.10,145.08 L192.25,145.05 L194.40,144.75 L196.55,145.41 L198.69,144.95 L200.84,144.89 L202.99,145.31 L205.13,144.76 L207.28,145.38 L209.43,145.27 L211.58,145.30 L213.72,145.14 L215.87,144.91 L218.02,144.76 L220.17,145.50 L222.31,145.08 L224.46,145.07 L226.61,145.54 L228.76,145.05 L230.90,145.14 L233.05,145.14 L235.20,145.17 L237.35,144.97" stroke="#000" stroke-width="0.6" fill="none" stroke-linejoin="round"/>
<path d="M43.28,146.28h1.6v1.6h-1.6zM45.43,145.75h1.6v1.6h-1.6zM47.57,145.36h1.6v1.6h-1.6zM49.72,144.38h1.6v1.6h-1.6zM51.87,143.72h1.6v1.6h-1.6zM54.02,143.02h1.6v1.6h-1.6zM56.16,142.72h1.6v1.6h-1.6zM58.31,142.53h1.6v1.6h-1.6zM60.46,142.15h1.6v1.6h-1.6zM62.61,141.80h1.6v1.6h-1.6zM64.75,140.60h1.6v1.6h-1.6zM66.90,135.25h1.6v1.6h-1.6zM69.05,136.42h1.6v1.6h-1.6zM71.20,138.37h1.6v1.6h-1.6zM73.34,138.73h1.6v1.6h-1.6zM75.49,138.99h1.6v1.6h-1.6zM77.64,139.91h1.6v1.6h-1.6zM79.79,141.04h1.6v1.6h-1.6zM81.93,140.75h1.6v1.6h-1.6zM84.08,141.33h1.6v1.6h-1.6zM86.23,141.88h1.6v1.6h-1.6zM88.38,141.92h1.6v1.6h-1.6zM90.52,142.69h1.6v1.6h-1.6zM92.67,143.10h1.6v1.6h-1.6zM94.82,142.84h1.6v1.6h-1.6zM96.97,143.55h1.6v1.6h-1.6zM99.11,143.33h1.6v1.6h-1.6zM101.26,143.38h1.6v1.6h-1.6zM103.41,143.74h1.6v1.6h-1.6zM105.55,143.82h1.6v1.6h-1.6zM107.70,143.71h1.6v1.6h-1.6zM109.85,144.11h1.6v1.6h-1.6zM112.00,143.68h1.6v1.6h-1.6zM114.14,143.84h1.6v1.6h-1.6zM116.29,143.81h1.6v1.6h-1.6zM118.44,144.24h1.6v1.6h-1.6zM120.59,144.27h1.6v1.6h-1.6zM122.73,144.27h1.6v1.6h-1.6zM124.88,143.86h1.6v1.6h-1.6zM127.03,144.20h1.6v1.6h-1.6zM129.18,144.29h1.6v1.6h-1.6zM131.32,143.86h1.6v1.6h-1.6zM133.47,144.06h1.6v1.6h-1.6zM135.62,144.40h1.6v1.6h-1.6zM137.77,144.44h1.6v1.6h-1.6zM139.91,144.36h1.6v1.6h-1.6zM142.06,144.42h1.6v1.6h-1.6zM144.21,144.38h1.6v1.6h-1.6zM146.36,144.34h1.6v1.6h-1.6zM148.50,144.29h1.6v1.6h-1.6zM150.65,144.12h1.6v1.6h-1.6zM152.80,144.26h1.6v1.6h-1.6zM154.94,144.23h1.6v1.6h-1.6zM157.09,144.83h1.6v1.6h-1.6zM159.24,144.38h1.6v1.6h-1.6zM161.39,144.32h1.6v1.6h-1.6zM163.53,144.27h1.6v1.6h-1.6zM165.68,144.30h1.6v1.6h-1.6zM167.83,144.27h1.6v1.6h-1.6zM169.98,144.45h1.6v1.6h-1.6zM172.12,144.33h1.6v1.6h-1.6zM174.27,144.51h1.6v1.6h-1.6zM176.42,144.19h1.6v1.6h-1.6zM178.57,144.42h1.6v1.6h-1.6zM180.71,144.54h1.6v1.6h-1.6zM182.86,144.09h1.6v1.6h-1.6zM185.01,144.38h1.6v1.6h-1.6zM187.16,144.40h1.6v1.6h-1.6zM189.30,144.28h1.6v1.6h-1.6zM191.45,144.25h1.6v1.6h-1.6zM193.60,143.95h1.6v1.6h-1.6zM195.75,144.61h1.6v1.6h-1.6zM197.89,144.15h1.6v1.6h-1.6zM200.04,144.09h1.6v1.6h-1.6zM202.19,144.51h1.6v1.6h-1.6zM204.33,143.96h1.6v1.6h-1.6zM206.48,144.58h1.6v1.6h-1.6zM208.63,144.47h1.6v1.6h-1.6zM210.78,144.50h1.6v1.6h-1.6zM212.92,144.34h1.6v1.6h-1.6zM215.07,144.11h1.6v1.6h-1.6zM217.22,143.96h1.6v1.6h-1.6zM219.37,144.70h1.6v1.6h-1.6zM221.51,144.28h1.6v1.6h-1.6zM223.66,144.27h1.6v1.6h-1.6zM225.81,144.74h1.6v1.6h-1.6zM227.96,144.25h1.6v1.6h-1.6zM230.10,144.34h1.6v1.6h-1.6zM232.25,144.34h1.6v1.6h-1.6zM234.40,144.37h1.6v1.6h-1.6zM236.55,144.17h1.6v1.6h-1.6z" fill="#000"/>
<path d="M67.5,145.50V147.60M69.5,141.67V145.54M71.5,134.07V138.90M74.5,126.31V132.40M76.5,122.09V128.54M78.5,117.29V124.81M80.5,113.32V121.26M82.5,109.87V118.11M84.5,107.84V115.62M87.5,105.96V114.89M89.5,105.02V113.41M91.5,103.26V112.03M93.5,102.01V110.81M95.5,100.46V109.95M97.5,100.02V109.49M99.5,98.91V108.31M102.5,98.50V108.15M104.5,97.25V107.16M106.5,96.76V107.05M108.5,96.46V106.80M110.5,95.74V106.65M112.5,95.13V106.40M114.5,94.81V105.73M117.5,94.85V104.90M119.5,93.84V105.73M121.5,93.13V105.46M123.5,93.21V104.36M125.5,92.76V104.09M127.5,92.55V103.12M129.5,91.48V103.94M132.5,91.53V103.12M134.5,89.82V103.38M136.5,90.78V101.85M138.5,89.59V102.49M140.5,88.67V102.13M142.5,89.09V101.88M145.5,88.80V101.38M147.5,87.85V101.16M149.5,87.96V100.80M151.5,87.67V100.67M153.5,86.79V100.05M155.5,86.91V99.86M157.5,86.35V99.56M160.5,85.73V99.67M162.5,86.09V99.28M164.5,85.54V99.15M166.5,85.53V98.56M168.5,84.79V98.99M170.5,85.57V98.32M172.5,84.72V99.04M175.5,85.81V97.45M177.5,84.88V98.02M179.5,84.95V97.66M181.5,84.06V98.61M183.5,84.01V98.09M185.5,84.18V97.20M187.5,83.80V97.38M190.5,83.17V98.13M192.5,83.20V97.22M194.5,82.82V97.32M196.5,83.42V96.49M198.5,83.09V96.21M200.5,82.48V97.11M202.5,81.22V97.14M205.5,82.62V96.55M207.5,81.76V96.55M209.5,82.03V95.75M211.5,81.30V96.64M213.5,81.45V95.60M215.5,81.61V95.82M218.5,82.01V95.20M220.5,81.10V95.41M222.5,80.74V95.53M224.5,80.33V96.05M226.5,80.86V94.74M228.5,80.00V95.51M230.5,80.37V94.95M233.5,80.36V95.02M235.5,80.13V94.34M237.5,80.33V94.01" stroke="#ff7b7b" stroke-width="0.9" fill="none"/>
<path d="M44.08,147.68 L46.23,147.49 L48.37,147.25 L50.52,147.67 L52.67,147.72 L54.82,147.70 L56.96,147.85 L59.11,147.73 L61.26,147.54 L63.41,147.75 L65.55,147.59 L67.70,146.55 L69.85,143.61 L72.00,136.48 L74.14,129.35 L76.29,125.31 L78.44,121.05 L80.59,117.29 L82.73,113.99 L84.88,111.73 L87.03,110.43 L89.18,109.21 L91.32,107.64 L93.47,106.41 L95.62,105.20 L97.77,104.75 L99.91,103.61 L102.06,103.32 L104.21,102.20 L106.35,101.91 L108.50,101.63 L110.65,101.20 L112.80,100.76 L114.94,100.27 L117.09,99.88 L119.24,99.79 L121.39,99.30 L123.53,98.79 L125.68,98.42 L127.83,97.83 L129.98,97.71 L132.12,97.33 L134.27,96.60 L136.42,96.31 L138.57,96.04 L140.71,95.40 L142.86,95.49 L145.01,95.09 L147.16,94.51 L149.30,94.38 L151.45,94.17 L153.60,93.42 L155.74,93.38 L157.89,92.96 L160.04,92.70 L162.19,92.68 L164.33,92.34 L166.48,92.05 L168.63,91.89 L170.78,91.94 L172.92,91.88 L175.07,91.63 L177.22,91.45 L179.37,91.30 L181.51,91.33 L183.66,91.05 L185.81,90.69 L187.96,90.59 L190.10,90.65 L192.25,90.21 L194.40,90.07 L196.55,89.96 L198.69,89.65 L200.84,89.79 L202.99,89.18 L205.13,89.58 L207.28,89.16 L209.43,88.89 L211.58,88.97 L213.72,88.53 L215.87,88.72 L218.02,88.61 L220.17,88.26 L222.31,88.14 L224.46,88.19 L226.61,87.80 L228.76,87.76 L230.90,87.66 L233.05,87.69 L235.20,87.24 L237.35,87.17" stroke="#f00" stroke-width="0.7" fill="none" stroke-linejoin="round"/>
<path d="M43.23,146.83h1.7v1.7h-1.7zM45.38,146.64h1.7v1.7h-1.7zM47.52,146.40h1.7v1.7h-1.7zM49.67,146.82h1.7v1.7h-1.7zM51.82,146.87h1.7v1.7h-1.7zM53.97,146.85h1.7v1.7h-1.7zM56.11,147.00h1.7v1.7h-1.7zM58.26,146.88h1.7v1.7h-1.7zM60.41,146.69h1.7v1.7h-1.7zM62.56,146.90h1.7v1.7h-1.7zM64.70,146.74h1.7v1.7h-1.7zM66.85,145.70h1.7v1.7h-1.7zM69.00,142.76h1.7v1.7h-1.7zM71.15,135.63h1.7v1.7h-1.7zM73.29,128.50h1.7v1.7h-1.7zM75.44,124.46h1.7v1.7h-1.7zM77.59,120.20h1.7v1.7h-1.7zM79.74,116.44h1.7v1.7h-1.7zM81.88,113.14h1.7v1.7h-1.7zM84.03,110.88h1.7v1.7h-1.7zM86.18,109.58h1.7v1.7h-1.7zM88.33,108.36h1.7v1.7h-1.7zM90.47,106.79h1.7v1.7h-1.7zM92.62,105.56h1.7v1.7h-1.7zM94.77,104.35h1.7v1.7h-1.7zM96.92,103.90h1.7v1.7h-1.7zM99.06,102.76h1.7v1.7h-1.7zM101.21,102.47h1.7v1.7h-1.7zM103.36,101.35h1.7v1.7h-1.7zM105.50,101.06h1.7v1.7h-1.7zM107.65,100.78h1.7v1.7h-1.7zM109.80,100.35h1.7v1.7h-1.7zM111.95,99.91h1.7v1.7h-1.7zM114.09,99.42h1.7v1.7h-1.7zM116.24,99.03h1.7v1.7h-1.7zM118.39,98.94h1.7v1.7h-1.7zM120.54,98.45h1.7v1.7h-1.7zM122.68,97.94h1.7v1.7h-1.7zM124.83,97.57h1.7v1.7h-1.7zM126.98,96.98h1.7v1.7h-1.7zM129.13,96.86h1.7v1.7h-1.7zM131.27,96.48h1.7v1.7h-1.7zM133.42,95.75h1.7v1.7h-1.7zM135.57,95.46h1.7v1.7h-1.7zM137.72,95.19h1.7v1.7h-1.7zM139.86,94.55h1.7v1.7h-1.7zM142.01,94.64h1.7v1.7h-1.7zM144.16,94.24h1.7v1.7h-1.7zM146.31,93.66h1.7v1.7h-1.7zM148.45,93.53h1.7v1.7h-1.7zM150.60,93.32h1.7v1.7h-1.7zM152.75,92.57h1.7v1.7h-1.7zM154.89,92.53h1.7v1.7h-1.7zM157.04,92.11h1.7v1.7h-1.7zM159.19,91.85h1.7v1.7h-1.7zM161.34,91.83h1.7v1.7h-1.7zM163.48,91.49h1.7v1.7h-1.7zM165.63,91.20h1.7v1.7h-1.7zM167.78,91.04h1.7v1.7h-1.7zM169.93,91.09h1.7v1.7h-1.7zM172.07,91.03h1.7v1.7h-1.7zM174.22,90.78h1.7v1.7h-1.7zM176.37,90.60h1.7v1.7h-1.7zM178.52,90.45h1.7v1.7h-1.7zM180.66,90.48h1.7v1.7h-1.7zM182.81,90.20h1.7v1.7h-1.7zM184.96,89.84h1.7v1.7h-1.7zM187.11,89.74h1.7v1.7h-1.7zM189.25,89.80h1.7v1.7h-1.7zM191.40,89.36h1.7v1.7h-1.7zM193.55,89.22h1.7v1.7h-1.7zM195.70,89.11h1.7v1.7h-1.7zM197.84,88.80h1.7v1.7h-1.7zM199.99,88.94h1.7v1.7h-1.7zM202.14,88.33h1.7v1.7h-1.7zM204.28,88.73h1.7v1.7h-1.7zM206.43,88.31h1.7v1.7h-1.7zM208.58,88.04h1.7v1.7h-1.7zM210.73,88.12h1.7v1.7h-1.7zM212.87,87.68h1.7v1.7h-1.7zM215.02,87.87h1.7v1.7h-1.7zM217.17,87.76h1.7v1.7h-1.7zM219.32,87.41h1.7v1.7h-1.7zM221.46,87.29h1.7v1.7h-1.7zM223.61,87.34h1.7v1.7h-1.7zM225.76,86.95h1.7v1.7h-1.7zM227.91,86.91h1.7v1.7h-1.7zM230.05,86.81h1.7v1.7h-1.7zM232.20,86.84h1.7v1.7h-1.7zM234.35,86.39h1.7v1.7h-1.7zM236.50,86.32h1.7v1.7h-1.7z" fill="#f00"/>
</g>
<g transform="translate(278,174.9)">
<rect x="40.5" y="6.8" width="204.1" height="142.5" fill="none" stroke="#6e6e6e" stroke-width="1.2"/>
<path d="M37.5,148.00H40.5M39.0,135.16H40.5M37.5,122.32H40.5M39.0,109.49H40.5M37.5,96.65H40.5M39.0,83.81H40.5M37.5,70.97H40.5M39.0,58.13H40.5M37.5,45.30H40.5M39.0,32.46H40.5M37.5,19.62H40.5M39.0,6.78H40.5M242.1,149.30H244.6M243.3,131.49H244.6M242.1,113.68H244.6M243.3,95.86H244.6M242.1,78.05H244.6M243.3,60.24H244.6M242.1,42.43H244.6M243.3,24.61H244.6M242.1,6.80H244.6M44.08,149.3V152.3M44.08,6.8V9.2M65.55,149.3V150.8M65.55,6.8V8.0M87.03,149.3V152.3M87.03,6.8V9.2M108.50,149.3V150.8M108.50,6.8V8.0M129.98,149.3V152.3M129.98,6.8V9.2M151.45,149.3V150.8M151.45,6.8V8.0M172.92,149.3V152.3M172.92,6.8V9.2M194.40,149.3V150.8M194.40,6.8V8.0M215.87,149.3V152.3M215.87,6.8V9.2M237.35,149.3V150.8M237.35,6.8V8.0" stroke="#5e5e5e" stroke-width="1" fill="none"/>
<text x="35.6" y="150.5" text-anchor="end" class="tl">0</text>
<text x="35.6" y="124.8" text-anchor="end" class="tl">20</text>
<text x="35.6" y="99.1" text-anchor="end" class="tl">40</text>
<text x="35.6" y="73.5" text-anchor="end" class="tl">60</text>
<text x="35.6" y="47.8" text-anchor="end" class="tl">80</text>
<text x="35.6" y="22.1" text-anchor="end" class="tl">100</text>
<text x="44.1" y="160.8" text-anchor="middle" class="tl">0</text>
<text x="87.0" y="160.8" text-anchor="middle" class="tl">60</text>
<text x="130.0" y="160.8" text-anchor="middle" class="tl">120</text>
<text x="172.9" y="160.8" text-anchor="middle" class="tl">180</text>
<text x="215.9" y="160.8" text-anchor="middle" class="tl">240</text>
<text x="248" y="151.9" class="tl">0</text>
<text x="248" y="116.3" class="tl">2</text>
<text x="248" y="80.7" class="tl">4</text>
<text x="248" y="45.0" class="tl">6</text>
<text x="248" y="9.4" class="tl">8</text>
<text x="225.2" y="168.5" class="xt">t [min]</text>
<text transform="translate(264.95,24.35) rotate(-90)" text-anchor="middle" class="ph">pH</text>
<text transform="translate(14.3,49.9) rotate(-90)" text-anchor="middle" class="yt">nimodipine [%]</text>
<text transform="translate(58.3,21.85) scale(0.95,1)" class="let">D</text>
<path d="M44.0,136.4 L65.7,136.4 L65.7,47.0 L66.4,49.5 L67.0,52.5 L67.6,53.6 L68.6,53.0 L70.0,51.6 L71.2,50.9 L108.3,50.9 L108.3,46.7 L113.7,46.7 L113.7,42.0 L118.0,42.0 L118.0,37.0 L122.7,37.0 L122.7,31.3 L127.7,31.3 L128.8,27.5 L239.0,27.5" stroke="#4848ff" stroke-width="1.05" fill="none"/>
<path d="M44.5,146.66V147.94M46.5,141.20V144.56M48.5,129.51V134.73M50.5,126.00V132.02M52.5,130.06V135.51M54.5,136.14V140.43M56.5,138.95V143.18M59.5,139.32V143.65M61.5,141.23V143.31M63.5,141.98V144.13M65.5,142.17V144.74M67.5,142.34V144.68M69.5,143.05V144.49M71.5,142.93V144.68M74.5,142.65V144.48M76.5,142.84V144.65M78.5,142.65V144.45M80.5,143.22V145.15M82.5,142.56V144.82M84.5,142.95V145.15M87.5,143.37V145.52M89.5,143.28V145.31M91.5,143.27V144.95M93.5,143.19V144.94M95.5,143.06V145.22M97.5,143.56V145.51M99.5,143.37V145.56M102.5,143.41V145.40M104.5,144.04V145.96M106.5,143.23V145.28M108.5,143.67V145.03M110.5,143.47V145.30M112.5,143.70V145.38M114.5,143.49V145.65M117.5,143.64V145.28M119.5,143.73V145.67M121.5,143.82V145.53M123.5,143.50V145.51M125.5,143.00V145.09M127.5,143.89V145.66M129.5,143.47V145.34M132.5,143.54V145.43M134.5,143.57V145.66M136.5,143.53V145.24M138.5,143.58V145.41M140.5,143.87V145.54M142.5,143.87V145.36M145.5,143.83V145.69M147.5,143.53V145.47M149.5,143.88V145.40M151.5,143.31V145.61M153.5,143.86V145.40M155.5,143.75V145.77M157.5,143.70V145.59M160.5,143.78V144.99M162.5,143.79V145.54M164.5,144.11V145.36M166.5,144.10V145.81M168.5,143.72V145.68M170.5,143.46V145.78M172.5,143.47V145.45M175.5,144.53V145.78M177.5,143.71V145.32M179.5,143.38V145.57M181.5,143.81V145.57M183.5,143.20V145.45M185.5,144.23V145.70M187.5,144.01V145.53M190.5,144.20V145.48M192.5,143.74V145.30M194.5,143.59V145.66M196.5,144.23V145.62M198.5,143.98V145.90M200.5,144.47V146.27M202.5,144.04V145.94M205.5,143.55V145.12M207.5,143.94V145.60M209.5,143.53V145.82M211.5,144.37V145.63M213.5,143.81V145.67M215.5,143.83V145.91M218.5,143.82V145.58M220.5,143.85V145.96M224.5,143.88V145.40M226.5,143.70V144.96M228.5,143.81V145.29M230.5,144.34V145.90M233.5,143.97V145.69M235.5,144.05V145.39M237.5,143.66V145.49" stroke="#5a5a5a" stroke-width="0.75" fill="none"/>
<path d="M44.08,147.30 L46.23,142.88 L48.37,132.12 L50.52,129.01 L52.67,132.78 L54.82,138.29 L56.96,141.06 L59.11,141.49 L61.26,142.27 L63.41,143.06 L65.55,143.46 L67.70,143.51 L69.85,143.77 L72.00,143.81 L74.14,143.57 L76.29,143.74 L78.44,143.55 L80.59,144.19 L82.73,143.69 L84.88,144.05 L87.03,144.45 L89.18,144.30 L91.32,144.11 L93.47,144.07 L95.62,144.14 L97.77,144.54 L99.91,144.46 L102.06,144.41 L104.21,145.00 L106.35,144.26 L108.50,144.35 L110.65,144.39 L112.80,144.54 L114.94,144.57 L117.09,144.46 L119.24,144.70 L121.39,144.67 L123.53,144.50 L125.68,144.05 L127.83,144.77 L129.98,144.41 L132.12,144.49 L134.27,144.61 L136.42,144.39 L138.57,144.50 L140.71,144.70 L142.86,144.61 L145.01,144.76 L147.16,144.50 L149.30,144.64 L151.45,144.46 L153.60,144.63 L155.74,144.76 L157.89,144.64 L160.04,144.39 L162.19,144.66 L164.33,144.74 L166.48,144.96 L168.63,144.70 L170.78,144.62 L172.92,144.46 L175.07,145.15 L177.22,144.51 L179.37,144.47 L181.51,144.69 L183.66,144.33 L185.81,144.96 L187.96,144.77 L190.10,144.84 L192.25,144.52 L194.40,144.63 L196.55,144.93 L198.69,144.94 L200.84,145.37 L202.99,144.99 L205.13,144.33 L207.28,144.77 L209.43,144.68 L211.58,145.00 L213.72,144.74 L215.87,144.87 L218.02,144.70 L220.17,144.90 L222.31,145.09 L224.46,144.64 L226.61,144.33 L228.76,144.55 L230.90,145.12 L233.05,144.83 L235.20,144.72 L237.35,144.58" stroke="#000" stroke-width="0.6" fill="none" stroke-linejoin="round"/>
<path d="M43.28,146.50h1.6v1.6h-1.6zM45.43,142.08h1.6v1.6h-1.6zM47.57,131.32h1.6v1.6h-1.6zM49.72,128.21h1.6v1.6h-1.6zM51.87,131.98h1.6v1.6h-1.6zM54.02,137.49h1.6v1.6h-1.6zM56.16,140.26h1.6v1.6h-1.6zM58.31,140.69h1.6v1.6h-1.6zM60.46,141.47h1.6v1.6h-1.6zM62.61,142.26h1.6v1.6h-1.6zM64.75,142.66h1.6v1.6h-1.6zM66.90,142.71h1.6v1.6h-1.6zM69.05,142.97h1.6v1.6h-1.6zM71.20,143.01h1.6v1.6h-1.6zM73.34,142.77h1.6v1.6h-1.6zM75.49,142.94h1.6v1.6h-1.6zM77.64,142.75h1.6v1.6h-1.6zM79.79,143.39h1.6v1.6h-1.6zM81.93,142.89h1.6v1.6h-1.6zM84.08,143.25h1.6v1.6h-1.6zM86.23,143.65h1.6v1.6h-1.6zM88.38,143.50h1.6v1.6h-1.6zM90.52,143.31h1.6v1.6h-1.6zM92.67,143.27h1.6v1.6h-1.6zM94.82,143.34h1.6v1.6h-1.6zM96.97,143.74h1.6v1.6h-1.6zM99.11,143.66h1.6v1.6h-1.6zM101.26,143.61h1.6v1.6h-1.6zM103.41,144.20h1.6v1.6h-1.6zM105.55,143.46h1.6v1.6h-1.6zM107.70,143.55h1.6v1.6h-1.6zM109.85,143.59h1.6v1.6h-1.6zM112.00,143.74h1.6v1.6h-1.6zM114.14,143.77h1.6v1.6h-1.6zM116.29,143.66h1.6v1.6h-1.6zM118.44,143.90h1.6v1.6h-1.6zM120.59,143.87h1.6v1.6h-1.6zM122.73,143.70h1.6v1.6h-1.6zM124.88,143.25h1.6v1.6h-1.6zM127.03,143.97h1.6v1.6h-1.6zM129.18,143.61h1.6v1.6h-1.6zM131.32,143.69h1.6v1.6h-1.6zM133.47,143.81h1.6v1.6h-1.6zM135.62,143.59h1.6v1.6h-1.6zM137.77,143.70h1.6v1.6h-1.6zM139.91,143.90h1.6v1.6h-1.6zM142.06,143.81h1.6v1.6h-1.6zM144.21,143.96h1.6v1.6h-1.6zM146.36,143.70h1.6v1.6h-1.6zM148.50,143.84h1.6v1.6h-1.6zM150.65,143.66h1.6v1.6h-1.6zM152.80,143.83h1.6v1.6h-1.6zM154.94,143.96h1.6v1.6h-1.6zM157.09,143.84h1.6v1.6h-1.6zM159.24,143.59h1.6v1.6h-1.6zM161.39,143.86h1.6v1.6h-1.6zM163.53,143.94h1.6v1.6h-1.6zM165.68,144.16h1.6v1.6h-1.6zM167.83,143.90h1.6v1.6h-1.6zM169.98,143.82h1.6v1.6h-1.6zM172.12,143.66h1.6v1.6h-1.6zM174.27,144.35h1.6v1.6h-1.6zM176.42,143.71h1.6v1.6h-1.6zM178.57,143.67h1.6v1.6h-1.6zM180.71,143.89h1.6v1.6h-1.6zM182.86,143.53h1.6v1.6h-1.6zM185.01,144.16h1.6v1.6h-1.6zM187.16,143.97h1.6v1.6h-1.6zM189.30,144.04h1.6v1.6h-1.6zM191.45,143.72h1.6v1.6h-1.6zM193.60,143.83h1.6v1.6h-1.6zM195.75,144.13h1.6v1.6h-1.6zM197.89,144.14h1.6v1.6h-1.6zM200.04,144.57h1.6v1.6h-1.6zM202.19,144.19h1.6v1.6h-1.6zM204.33,143.53h1.6v1.6h-1.6zM206.48,143.97h1.6v1.6h-1.6zM208.63,143.88h1.6v1.6h-1.6zM210.78,144.20h1.6v1.6h-1.6zM212.92,143.94h1.6v1.6h-1.6zM215.07,144.07h1.6v1.6h-1.6zM217.22,143.90h1.6v1.6h-1.6zM219.37,144.10h1.6v1.6h-1.6zM221.51,144.29h1.6v1.6h-1.6zM223.66,143.84h1.6v1.6h-1.6zM225.81,143.53h1.6v1.6h-1.6zM227.96,143.75h1.6v1.6h-1.6zM230.10,144.32h1.6v1.6h-1.6zM232.25,144.03h1.6v1.6h-1.6zM234.40,143.92h1.6v1.6h-1.6zM236.55,143.78h1.6v1.6h-1.6z" fill="#000"/>
<path d="M67.5,141.12V146.49M69.5,134.39V141.79M71.5,131.55V139.99M74.5,129.23V139.66M76.5,128.19V138.42M78.5,127.39V138.08M80.5,125.51V136.63M82.5,125.23V135.77M84.5,123.75V135.96M87.5,122.97V134.32M89.5,121.47V133.95M91.5,121.28V133.19M93.5,119.65V131.97M95.5,119.17V130.87M97.5,118.14V130.35M99.5,117.65V129.91M102.5,116.79V129.60M104.5,115.57V129.25M106.5,115.83V128.39M108.5,114.63V127.58M110.5,113.77V127.20M112.5,112.90V126.80M114.5,112.90V126.28M117.5,112.26V125.58M119.5,111.71V125.03M121.5,111.26V125.12M123.5,110.56V124.72M125.5,110.29V123.92M127.5,109.26V123.29M129.5,108.35V123.28M132.5,108.20V122.70M134.5,107.84V122.07M136.5,106.79V122.09M138.5,106.26V121.70M140.5,105.91V121.39M142.5,105.18V120.78M145.5,105.33V120.18M147.5,104.55V119.93M149.5,104.05V119.58M151.5,103.70V119.15M153.5,104.13V118.20M155.5,102.95V118.42M157.5,102.19V118.02M160.5,101.89V117.90M162.5,101.82V117.27M164.5,101.37V117.15M166.5,101.64V116.03M168.5,101.35V116.05M170.5,101.49V115.07M172.5,99.81V115.64M175.5,98.68V116.07M177.5,98.25V115.81M179.5,99.33V114.63M181.5,98.08V114.90M183.5,97.52V114.90M185.5,97.85V114.01M187.5,98.37V113.23M190.5,96.75V114.48M192.5,96.79V113.11M194.5,96.76V113.12M196.5,95.30V113.49M198.5,95.57V112.78M200.5,94.84V112.44M202.5,94.02V112.33M205.5,94.68V111.57M207.5,94.80V111.06M209.5,93.27V111.10M211.5,93.48V110.71M213.5,92.86V110.79M215.5,92.71V110.42M218.5,92.70V109.47M220.5,92.21V109.74M222.5,92.37V109.64M224.5,92.23V109.66M226.5,91.65V109.33M228.5,91.38V109.47M230.5,91.10V109.13M233.5,91.57V108.34M235.5,90.37V108.91M237.5,91.10V107.84" stroke="#ff7b7b" stroke-width="0.9" fill="none"/>
<path d="M44.08,147.45 L46.23,147.83 L48.37,147.65 L50.52,147.42 L52.67,147.42 L54.82,147.42 L56.96,147.53 L59.11,147.70 L61.26,147.88 L63.41,147.80 L65.55,147.48 L67.70,143.81 L69.85,138.09 L72.00,135.77 L74.14,134.44 L76.29,133.31 L78.44,132.74 L80.59,131.07 L82.73,130.50 L84.88,129.86 L87.03,128.64 L89.18,127.71 L91.32,127.23 L93.47,125.81 L95.62,125.02 L97.77,124.25 L99.91,123.78 L102.06,123.19 L104.21,122.41 L106.35,122.11 L108.50,121.10 L110.65,120.49 L112.80,119.85 L114.94,119.59 L117.09,118.92 L119.24,118.37 L121.39,118.19 L123.53,117.64 L125.68,117.11 L127.83,116.27 L129.98,115.81 L132.12,115.45 L134.27,114.96 L136.42,114.44 L138.57,113.98 L140.71,113.65 L142.86,112.98 L145.01,112.75 L147.16,112.24 L149.30,111.81 L151.45,111.43 L153.60,111.17 L155.74,110.68 L157.89,110.11 L160.04,109.90 L162.19,109.54 L164.33,109.26 L166.48,108.83 L168.63,108.70 L170.78,108.28 L172.92,107.72 L175.07,107.38 L177.22,107.03 L179.37,106.98 L181.51,106.49 L183.66,106.21 L185.81,105.93 L187.96,105.80 L190.10,105.62 L192.25,104.95 L194.40,104.94 L196.55,104.40 L198.69,104.18 L200.84,103.64 L202.99,103.18 L205.13,103.12 L207.28,102.93 L209.43,102.19 L211.58,102.10 L213.72,101.82 L215.87,101.57 L218.02,101.09 L220.17,100.97 L222.31,101.00 L224.46,100.94 L226.61,100.49 L228.76,100.43 L230.90,100.11 L233.05,99.96 L235.20,99.64 L237.35,99.47" stroke="#f00" stroke-width="0.7" fill="none" stroke-linejoin="round"/>
<path d="M43.23,146.60h1.7v1.7h-1.7zM45.38,146.98h1.7v1.7h-1.7zM47.52,146.80h1.7v1.7h-1.7zM49.67,146.57h1.7v1.7h-1.7zM51.82,146.57h1.7v1.7h-1.7zM53.97,146.57h1.7v1.7h-1.7zM56.11,146.68h1.7v1.7h-1.7zM58.26,146.85h1.7v1.7h-1.7zM60.41,147.03h1.7v1.7h-1.7zM62.56,146.95h1.7v1.7h-1.7zM64.70,146.63h1.7v1.7h-1.7zM66.85,142.96h1.7v1.7h-1.7zM69.00,137.24h1.7v1.7h-1.7zM71.15,134.92h1.7v1.7h-1.7zM73.29,133.59h1.7v1.7h-1.7zM75.44,132.46h1.7v1.7h-1.7zM77.59,131.89h1.7v1.7h-1.7zM79.74,130.22h1.7v1.7h-1.7zM81.88,129.65h1.7v1.7h-1.7zM84.03,129.01h1.7v1.7h-1.7zM86.18,127.79h1.7v1.7h-1.7zM88.33,126.86h1.7v1.7h-1.7zM90.47,126.38h1.7v1.7h-1.7zM92.62,124.96h1.7v1.7h-1.7zM94.77,124.17h1.7v1.7h-1.7zM96.92,123.40h1.7v1.7h-1.7zM99.06,122.93h1.7v1.7h-1.7zM101.21,122.34h1.7v1.7h-1.7zM103.36,121.56h1.7v1.7h-1.7zM105.50,121.26h1.7v1.7h-1.7zM107.65,120.25h1.7v1.7h-1.7zM109.80,119.64h1.7v1.7h-1.7zM111.95,119.00h1.7v1.7h-1.7zM114.09,118.74h1.7v1.7h-1.7zM116.24,118.07h1.7v1.7h-1.7zM118.39,117.52h1.7v1.7h-1.7zM120.54,117.34h1.7v1.7h-1.7zM122.68,116.79h1.7v1.7h-1.7zM124.83,116.26h1.7v1.7h-1.7zM126.98,115.42h1.7v1.7h-1.7zM129.13,114.96h1.7v1.7h-1.7zM131.27,114.60h1.7v1.7h-1.7zM133.42,114.11h1.7v1.7h-1.7zM135.57,113.59h1.7v1.7h-1.7zM137.72,113.13h1.7v1.7h-1.7zM139.86,112.80h1.7v1.7h-1.7zM142.01,112.13h1.7v1.7h-1.7zM144.16,111.90h1.7v1.7h-1.7zM146.31,111.39h1.7v1.7h-1.7zM148.45,110.96h1.7v1.7h-1.7zM150.60,110.58h1.7v1.7h-1.7zM152.75,110.32h1.7v1.7h-1.7zM154.89,109.83h1.7v1.7h-1.7zM157.04,109.26h1.7v1.7h-1.7zM159.19,109.05h1.7v1.7h-1.7zM161.34,108.69h1.7v1.7h-1.7zM163.48,108.41h1.7v1.7h-1.7zM165.63,107.98h1.7v1.7h-1.7zM167.78,107.85h1.7v1.7h-1.7zM169.93,107.43h1.7v1.7h-1.7zM172.07,106.87h1.7v1.7h-1.7zM174.22,106.53h1.7v1.7h-1.7zM176.37,106.18h1.7v1.7h-1.7zM178.52,106.13h1.7v1.7h-1.7zM180.66,105.64h1.7v1.7h-1.7zM182.81,105.36h1.7v1.7h-1.7zM184.96,105.08h1.7v1.7h-1.7zM187.11,104.95h1.7v1.7h-1.7zM189.25,104.77h1.7v1.7h-1.7zM191.40,104.10h1.7v1.7h-1.7zM193.55,104.09h1.7v1.7h-1.7zM195.70,103.55h1.7v1.7h-1.7zM197.84,103.33h1.7v1.7h-1.7zM199.99,102.79h1.7v1.7h-1.7zM202.14,102.33h1.7v1.7h-1.7zM204.28,102.27h1.7v1.7h-1.7zM206.43,102.08h1.7v1.7h-1.7zM208.58,101.34h1.7v1.7h-1.7zM210.73,101.25h1.7v1.7h-1.7zM212.87,100.97h1.7v1.7h-1.7zM215.02,100.72h1.7v1.7h-1.7zM217.17,100.24h1.7v1.7h-1.7zM219.32,100.12h1.7v1.7h-1.7zM221.46,100.15h1.7v1.7h-1.7zM223.61,100.09h1.7v1.7h-1.7zM225.76,99.64h1.7v1.7h-1.7zM227.91,99.58h1.7v1.7h-1.7zM230.05,99.26h1.7v1.7h-1.7zM232.20,99.11h1.7v1.7h-1.7zM234.35,98.79h1.7v1.7h-1.7zM236.50,98.62h1.7v1.7h-1.7z" fill="#f00"/>
</g>
<g transform="translate(0,349.8)">
<rect x="40.5" y="6.8" width="204.1" height="142.5" fill="none" stroke="#6e6e6e" stroke-width="1.2"/>
<path d="M37.5,148.00H40.5M39.0,135.16H40.5M37.5,122.32H40.5M39.0,109.49H40.5M37.5,96.65H40.5M39.0,83.81H40.5M37.5,70.97H40.5M39.0,58.13H40.5M37.5,45.30H40.5M39.0,32.46H40.5M37.5,19.62H40.5M39.0,6.78H40.5M242.1,149.30H244.6M243.3,131.49H244.6M242.1,113.68H244.6M243.3,95.86H244.6M242.1,78.05H244.6M243.3,60.24H244.6M242.1,42.43H244.6M243.3,24.61H244.6M242.1,6.80H244.6M44.08,149.3V152.3M44.08,6.8V9.2M65.55,149.3V150.8M65.55,6.8V8.0M87.03,149.3V152.3M87.03,6.8V9.2M108.50,149.3V150.8M108.50,6.8V8.0M129.98,149.3V152.3M129.98,6.8V9.2M151.45,149.3V150.8M151.45,6.8V8.0M172.92,149.3V152.3M172.92,6.8V9.2M194.40,149.3V150.8M194.40,6.8V8.0M215.87,149.3V152.3M215.87,6.8V9.2M237.35,149.3V150.8M237.35,6.8V8.0" stroke="#5e5e5e" stroke-width="1" fill="none"/>
<text x="35.6" y="150.5" text-anchor="end" class="tl">0</text>
<text x="35.6" y="124.8" text-anchor="end" class="tl">20</text>
<text x="35.6" y="99.1" text-anchor="end" class="tl">40</text>
<text x="35.6" y="73.5" text-anchor="end" class="tl">60</text>
<text x="35.6" y="47.8" text-anchor="end" class="tl">80</text>
<text x="35.6" y="22.1" text-anchor="end" class="tl">100</text>
<text x="44.1" y="160.8" text-anchor="middle" class="tl">0</text>
<text x="87.0" y="160.8" text-anchor="middle" class="tl">60</text>
<text x="130.0" y="160.8" text-anchor="middle" class="tl">120</text>
<text x="172.9" y="160.8" text-anchor="middle" class="tl">180</text>
<text x="215.9" y="160.8" text-anchor="middle" class="tl">240</text>
<text x="248" y="151.9" class="tl">0</text>
<text x="248" y="116.3" class="tl">2</text>
<text x="248" y="80.7" class="tl">4</text>
<text x="248" y="45.0" class="tl">6</text>
<text x="248" y="9.4" class="tl">8</text>
<text x="225.6" y="169.4" class="xt">t [min]</text>
<text transform="translate(265.65,24.25) rotate(-90)" text-anchor="middle" class="ph">pH</text>
<text transform="translate(14,51.4) rotate(-90)" text-anchor="middle" class="yt">itraconazole [%]</text>
<text transform="translate(55.15,21.95) scale(0.75,1)" class="let">E</text>
<path d="M44.0,136.4 L65.7,136.4 L65.7,47.0 L66.4,49.5 L67.0,52.5 L67.6,53.6 L68.6,53.0 L70.0,51.6 L71.2,50.9 L108.3,50.9 L108.3,46.7 L113.7,46.7 L113.7,42.0 L118.0,42.0 L118.0,37.0 L122.7,37.0 L122.7,31.3 L127.7,31.3 L128.8,27.5 L239.0,27.5" stroke="#4848ff" stroke-width="1.05" fill="none"/>
<path d="M46.5,146.14V147.44M48.5,145.19V146.60M50.5,135.14V136.67M52.5,125.55V126.78M56.5,98.70V100.09M59.5,89.31V91.43M61.5,73.45V74.95M63.5,67.26V70.13M65.5,126.94V130.80M67.5,127.00V130.41M69.5,127.93V132.70M71.5,128.39V135.46M74.5,129.34V136.33M76.5,132.53V137.87M78.5,133.71V139.53M80.5,136.22V142.35M82.5,138.87V144.59M84.5,139.94V146.58M87.5,142.16V147.60M89.5,142.93V148.14M91.5,145.10V147.38M93.5,144.12V147.74M95.5,145.01V148.41M97.5,145.19V148.05M99.5,145.09V148.22M102.5,145.24V148.63M104.5,145.54V148.55M106.5,145.87V148.57M108.5,145.61V148.55M110.5,146.34V148.77M112.5,145.90V148.00M114.5,146.07V148.36M117.5,146.03V148.35M119.5,146.12V148.88M121.5,145.88V148.90M123.5,146.28V149.01M125.5,145.75V149.01M127.5,146.60V149.12M129.5,146.64V148.89M132.5,146.42V148.60M134.5,146.24V148.32M136.5,146.25V148.58M138.5,145.84V148.88M140.5,147.11V148.88M142.5,146.61V149.22M145.5,146.32V148.67M147.5,146.88V149.55M149.5,146.70V148.81M151.5,146.07V148.64M153.5,147.09V149.14M155.5,146.95V149.43M157.5,147.17V148.60M160.5,146.48V148.84M162.5,146.89V149.33M164.5,146.95V148.46M166.5,146.58V149.00M168.5,147.05V148.70M170.5,146.62V149.02M172.5,146.62V148.64M175.5,146.36V148.60M177.5,146.81V148.90M179.5,146.42V147.95M181.5,146.50V148.94M183.5,146.54V148.84M185.5,146.96V148.48M187.5,146.49V148.51M190.5,146.63V148.59M192.5,146.93V148.50M194.5,146.57V148.01M196.5,146.45V148.58M198.5,146.77V148.36M200.5,146.21V148.16M202.5,146.12V148.33M205.5,146.88V148.65M207.5,146.95V148.30M209.5,146.29V148.13M213.5,146.78V148.06M215.5,146.49V148.76M218.5,146.91V148.17M220.5,145.97V147.50M224.5,146.85V148.21M226.5,146.86V148.27M233.5,146.49V147.91M235.5,146.26V147.70M237.5,146.45V147.75" stroke="#5a5a5a" stroke-width="0.75" fill="none"/>
<path d="M44.08,148.50 L46.23,146.79 L48.37,145.90 L50.52,135.90 L52.67,126.17 L54.82,116.53 L56.96,99.39 L59.11,90.37 L61.26,74.20 L63.41,68.69 L65.55,128.87 L67.70,128.70 L69.85,130.31 L72.00,131.93 L74.14,132.83 L76.29,135.20 L78.44,136.62 L80.59,139.29 L82.73,141.73 L84.88,143.26 L87.03,144.88 L89.18,145.54 L91.32,146.24 L93.47,145.93 L95.62,146.71 L97.77,146.62 L99.91,146.66 L102.06,146.93 L104.21,147.05 L106.35,147.22 L108.50,147.08 L110.65,147.56 L112.80,146.95 L114.94,147.22 L117.09,147.19 L119.24,147.50 L121.39,147.39 L123.53,147.64 L125.68,147.38 L127.83,147.86 L129.98,147.77 L132.12,147.51 L134.27,147.28 L136.42,147.41 L138.57,147.36 L140.71,148.00 L142.86,147.92 L145.01,147.50 L147.16,148.22 L149.30,147.76 L151.45,147.35 L153.60,148.11 L155.74,148.19 L157.89,147.88 L160.04,147.66 L162.19,148.11 L164.33,147.70 L166.48,147.79 L168.63,147.88 L170.78,147.82 L172.92,147.63 L175.07,147.48 L177.22,147.86 L179.37,147.18 L181.51,147.72 L183.66,147.69 L185.81,147.72 L187.96,147.50 L190.10,147.61 L192.25,147.72 L194.40,147.29 L196.55,147.51 L198.69,147.56 L200.84,147.18 L202.99,147.23 L205.13,147.76 L207.28,147.62 L209.43,147.21 L211.58,147.51 L213.72,147.42 L215.87,147.62 L218.02,147.54 L220.17,146.73 L222.31,147.18 L224.46,147.53 L226.61,147.57 L228.76,147.05 L230.90,146.89 L233.05,147.20 L235.20,146.98 L237.35,147.10" stroke="#000" stroke-width="0.6" fill="none" stroke-linejoin="round"/>
<path d="M43.28,147.70h1.6v1.6h-1.6zM45.43,145.99h1.6v1.6h-1.6zM47.57,145.10h1.6v1.6h-1.6zM49.72,135.10h1.6v1.6h-1.6zM51.87,125.37h1.6v1.6h-1.6zM54.02,115.73h1.6v1.6h-1.6zM56.16,98.59h1.6v1.6h-1.6zM58.31,89.57h1.6v1.6h-1.6zM60.46,73.40h1.6v1.6h-1.6zM62.61,67.89h1.6v1.6h-1.6zM64.75,128.07h1.6v1.6h-1.6zM66.90,127.90h1.6v1.6h-1.6zM69.05,129.51h1.6v1.6h-1.6zM71.20,131.13h1.6v1.6h-1.6zM73.34,132.03h1.6v1.6h-1.6zM75.49,134.40h1.6v1.6h-1.6zM77.64,135.82h1.6v1.6h-1.6zM79.79,138.49h1.6v1.6h-1.6zM81.93,140.93h1.6v1.6h-1.6zM84.08,142.46h1.6v1.6h-1.6zM86.23,144.08h1.6v1.6h-1.6zM88.38,144.74h1.6v1.6h-1.6zM90.52,145.44h1.6v1.6h-1.6zM92.67,145.13h1.6v1.6h-1.6zM94.82,145.91h1.6v1.6h-1.6zM96.97,145.82h1.6v1.6h-1.6zM99.11,145.86h1.6v1.6h-1.6zM101.26,146.13h1.6v1.6h-1.6zM103.41,146.25h1.6v1.6h-1.6zM105.55,146.42h1.6v1.6h-1.6zM107.70,146.28h1.6v1.6h-1.6zM109.85,146.76h1.6v1.6h-1.6zM112.00,146.15h1.6v1.6h-1.6zM114.14,146.42h1.6v1.6h-1.6zM116.29,146.39h1.6v1.6h-1.6zM118.44,146.70h1.6v1.6h-1.6zM120.59,146.59h1.6v1.6h-1.6zM122.73,146.84h1.6v1.6h-1.6zM124.88,146.58h1.6v1.6h-1.6zM127.03,147.06h1.6v1.6h-1.6zM129.18,146.97h1.6v1.6h-1.6zM131.32,146.71h1.6v1.6h-1.6zM133.47,146.48h1.6v1.6h-1.6zM135.62,146.61h1.6v1.6h-1.6zM137.77,146.56h1.6v1.6h-1.6zM139.91,147.20h1.6v1.6h-1.6zM142.06,147.12h1.6v1.6h-1.6zM144.21,146.70h1.6v1.6h-1.6zM146.36,147.42h1.6v1.6h-1.6zM148.50,146.96h1.6v1.6h-1.6zM150.65,146.55h1.6v1.6h-1.6zM152.80,147.31h1.6v1.6h-1.6zM154.94,147.39h1.6v1.6h-1.6zM157.09,147.08h1.6v1.6h-1.6zM159.24,146.86h1.6v1.6h-1.6zM161.39,147.31h1.6v1.6h-1.6zM163.53,146.90h1.6v1.6h-1.6zM165.68,146.99h1.6v1.6h-1.6zM167.83,147.08h1.6v1.6h-1.6zM169.98,147.02h1.6v1.6h-1.6zM172.12,146.83h1.6v1.6h-1.6zM174.27,146.68h1.6v1.6h-1.6zM176.42,147.06h1.6v1.6h-1.6zM178.57,146.38h1.6v1.6h-1.6zM180.71,146.92h1.6v1.6h-1.6zM182.86,146.89h1.6v1.6h-1.6zM185.01,146.92h1.6v1.6h-1.6zM187.16,146.70h1.6v1.6h-1.6zM189.30,146.81h1.6v1.6h-1.6zM191.45,146.92h1.6v1.6h-1.6zM193.60,146.49h1.6v1.6h-1.6zM195.75,146.71h1.6v1.6h-1.6zM197.89,146.76h1.6v1.6h-1.6zM200.04,146.38h1.6v1.6h-1.6zM202.19,146.43h1.6v1.6h-1.6zM204.33,146.96h1.6v1.6h-1.6zM206.48,146.82h1.6v1.6h-1.6zM208.63,146.41h1.6v1.6h-1.6zM210.78,146.71h1.6v1.6h-1.6zM212.92,146.62h1.6v1.6h-1.6zM215.07,146.82h1.6v1.6h-1.6zM217.22,146.74h1.6v1.6h-1.6zM219.37,145.93h1.6v1.6h-1.6zM221.51,146.38h1.6v1.6h-1.6zM223.66,146.73h1.6v1.6h-1.6zM225.81,146.77h1.6v1.6h-1.6zM227.96,146.25h1.6v1.6h-1.6zM230.10,146.09h1.6v1.6h-1.6zM232.25,146.40h1.6v1.6h-1.6zM234.40,146.18h1.6v1.6h-1.6zM236.55,146.30h1.6v1.6h-1.6z" fill="#000"/>
<path d="M69.5,146.28V147.65M71.5,145.30V147.07M74.5,144.00V145.94M76.5,142.61V145.27M78.5,141.66V144.75M80.5,140.51V143.49M82.5,139.27V142.38M84.5,138.36V141.45M87.5,137.73V140.96M89.5,136.81V139.85M91.5,136.08V139.01M93.5,135.59V138.93M95.5,135.40V138.47M97.5,134.84V138.18M99.5,134.21V137.38M102.5,133.75V136.98M104.5,133.76V137.32M106.5,133.15V136.85M108.5,133.06V136.50M110.5,132.64V136.06M112.5,132.56V136.15M114.5,132.15V135.63M117.5,131.96V135.25M119.5,131.63V135.27M121.5,131.40V134.66M123.5,131.11V134.91M125.5,130.92V134.57M127.5,130.31V134.13M129.5,130.40V133.93M132.5,130.13V133.84M134.5,129.77V133.77M136.5,129.80V133.99M138.5,129.78V133.91M140.5,129.53V133.60M142.5,129.23V133.02M145.5,128.84V132.99M147.5,129.09V133.18M149.5,128.80V132.82M151.5,128.51V132.88M153.5,128.40V132.36M155.5,127.88V132.39M157.5,128.62V132.66M160.5,128.06V132.10M162.5,127.91V132.10M164.5,127.75V131.71M166.5,127.92V132.08M168.5,127.43V131.73M170.5,127.51V131.44M172.5,127.30V131.44M175.5,127.21V131.25M177.5,127.18V131.44M179.5,126.37V131.01M181.5,126.77V131.08M183.5,126.41V130.79M185.5,126.25V130.75M187.5,126.22V130.44M190.5,126.08V130.63M192.5,125.76V130.16M194.5,125.77V130.16M196.5,125.95V130.12M198.5,125.55V129.98M200.5,125.26V130.11M202.5,125.26V130.17M205.5,125.29V129.87M207.5,125.08V129.76M209.5,125.09V129.68M211.5,124.92V129.37M213.5,125.16V129.47M215.5,124.34V129.51M218.5,124.48V129.02M220.5,124.54V129.39M222.5,124.01V129.20M224.5,124.19V128.94M226.5,124.17V128.99M228.5,124.14V129.10M230.5,123.94V128.76M233.5,123.76V128.76M235.5,123.73V128.60M237.5,123.56V128.82" stroke="#ff7b7b" stroke-width="0.9" fill="none"/>
<path d="M44.08,147.77 L46.23,147.97 L48.37,147.84 L50.52,147.79 L52.67,147.91 L54.82,148.25 L56.96,147.78 L59.11,148.07 L61.26,147.95 L63.41,147.69 L65.55,147.77 L67.70,147.51 L69.85,146.97 L72.00,146.19 L74.14,144.97 L76.29,143.94 L78.44,143.20 L80.59,142.00 L82.73,140.83 L84.88,139.91 L87.03,139.34 L89.18,138.33 L91.32,137.55 L93.47,137.26 L95.62,136.94 L97.77,136.51 L99.91,135.80 L102.06,135.36 L104.21,135.54 L106.35,135.00 L108.50,134.78 L110.65,134.35 L112.80,134.36 L114.94,133.89 L117.09,133.61 L119.24,133.45 L121.39,133.03 L123.53,133.01 L125.68,132.75 L127.83,132.22 L129.98,132.17 L132.12,131.98 L134.27,131.77 L136.42,131.90 L138.57,131.85 L140.71,131.56 L142.86,131.13 L145.01,130.92 L147.16,131.14 L149.30,130.81 L151.45,130.70 L153.60,130.38 L155.74,130.14 L157.89,130.64 L160.04,130.08 L162.19,130.01 L164.33,129.73 L166.48,130.00 L168.63,129.58 L170.78,129.48 L172.92,129.37 L175.07,129.23 L177.22,129.31 L179.37,128.69 L181.51,128.92 L183.66,128.60 L185.81,128.50 L187.96,128.33 L190.10,128.35 L192.25,127.96 L194.40,127.96 L196.55,128.03 L198.69,127.77 L200.84,127.68 L202.99,127.72 L205.13,127.58 L207.28,127.42 L209.43,127.38 L211.58,127.15 L213.72,127.31 L215.87,126.93 L218.02,126.75 L220.17,126.96 L222.31,126.61 L224.46,126.56 L226.61,126.58 L228.76,126.62 L230.90,126.35 L233.05,126.26 L235.20,126.17 L237.35,126.19" stroke="#f00" stroke-width="0.7" fill="none" stroke-linejoin="round"/>
<path d="M43.23,146.92h1.7v1.7h-1.7zM45.38,147.12h1.7v1.7h-1.7zM47.52,146.99h1.7v1.7h-1.7zM49.67,146.94h1.7v1.7h-1.7zM51.82,147.06h1.7v1.7h-1.7zM53.97,147.40h1.7v1.7h-1.7zM56.11,146.93h1.7v1.7h-1.7zM58.26,147.22h1.7v1.7h-1.7zM60.41,147.10h1.7v1.7h-1.7zM62.56,146.84h1.7v1.7h-1.7zM64.70,146.92h1.7v1.7h-1.7zM66.85,146.66h1.7v1.7h-1.7zM69.00,146.12h1.7v1.7h-1.7zM71.15,145.34h1.7v1.7h-1.7zM73.29,144.12h1.7v1.7h-1.7zM75.44,143.09h1.7v1.7h-1.7zM77.59,142.35h1.7v1.7h-1.7zM79.74,141.15h1.7v1.7h-1.7zM81.88,139.98h1.7v1.7h-1.7zM84.03,139.06h1.7v1.7h-1.7zM86.18,138.49h1.7v1.7h-1.7zM88.33,137.48h1.7v1.7h-1.7zM90.47,136.70h1.7v1.7h-1.7zM92.62,136.41h1.7v1.7h-1.7zM94.77,136.09h1.7v1.7h-1.7zM96.92,135.66h1.7v1.7h-1.7zM99.06,134.95h1.7v1.7h-1.7zM101.21,134.51h1.7v1.7h-1.7zM103.36,134.69h1.7v1.7h-1.7zM105.50,134.15h1.7v1.7h-1.7zM107.65,133.93h1.7v1.7h-1.7zM109.80,133.50h1.7v1.7h-1.7zM111.95,133.51h1.7v1.7h-1.7zM114.09,133.04h1.7v1.7h-1.7zM116.24,132.76h1.7v1.7h-1.7zM118.39,132.60h1.7v1.7h-1.7zM120.54,132.18h1.7v1.7h-1.7zM122.68,132.16h1.7v1.7h-1.7zM124.83,131.90h1.7v1.7h-1.7zM126.98,131.37h1.7v1.7h-1.7zM129.13,131.32h1.7v1.7h-1.7zM131.27,131.13h1.7v1.7h-1.7zM133.42,130.92h1.7v1.7h-1.7zM135.57,131.05h1.7v1.7h-1.7zM137.72,131.00h1.7v1.7h-1.7zM139.86,130.71h1.7v1.7h-1.7zM142.01,130.28h1.7v1.7h-1.7zM144.16,130.07h1.7v1.7h-1.7zM146.31,130.29h1.7v1.7h-1.7zM148.45,129.96h1.7v1.7h-1.7zM150.60,129.85h1.7v1.7h-1.7zM152.75,129.53h1.7v1.7h-1.7zM154.89,129.29h1.7v1.7h-1.7zM157.04,129.79h1.7v1.7h-1.7zM159.19,129.23h1.7v1.7h-1.7zM161.34,129.16h1.7v1.7h-1.7zM163.48,128.88h1.7v1.7h-1.7zM165.63,129.15h1.7v1.7h-1.7zM167.78,128.73h1.7v1.7h-1.7zM169.93,128.63h1.7v1.7h-1.7zM172.07,128.52h1.7v1.7h-1.7zM174.22,128.38h1.7v1.7h-1.7zM176.37,128.46h1.7v1.7h-1.7zM178.52,127.84h1.7v1.7h-1.7zM180.66,128.07h1.7v1.7h-1.7zM182.81,127.75h1.7v1.7h-1.7zM184.96,127.65h1.7v1.7h-1.7zM187.11,127.48h1.7v1.7h-1.7zM189.25,127.50h1.7v1.7h-1.7zM191.40,127.11h1.7v1.7h-1.7zM193.55,127.11h1.7v1.7h-1.7zM195.70,127.18h1.7v1.7h-1.7zM197.84,126.92h1.7v1.7h-1.7zM199.99,126.83h1.7v1.7h-1.7zM202.14,126.87h1.7v1.7h-1.7zM204.28,126.73h1.7v1.7h-1.7zM206.43,126.57h1.7v1.7h-1.7zM208.58,126.53h1.7v1.7h-1.7zM210.73,126.30h1.7v1.7h-1.7zM212.87,126.46h1.7v1.7h-1.7zM215.02,126.08h1.7v1.7h-1.7zM217.17,125.90h1.7v1.7h-1.7zM219.32,126.11h1.7v1.7h-1.7zM221.46,125.76h1.7v1.7h-1.7zM223.61,125.71h1.7v1.7h-1.7zM225.76,125.73h1.7v1.7h-1.7zM227.91,125.77h1.7v1.7h-1.7zM230.05,125.50h1.7v1.7h-1.7zM232.20,125.41h1.7v1.7h-1.7zM234.35,125.32h1.7v1.7h-1.7zM236.50,125.34h1.7v1.7h-1.7z" fill="#f00"/>
</g>
<g transform="translate(278,349.8)">
<rect x="40.5" y="6.8" width="204.1" height="142.5" fill="none" stroke="#6e6e6e" stroke-width="1.2"/>
<path d="M37.5,148.00H40.5M39.0,135.16H40.5M37.5,122.32H40.5M39.0,109.49H40.5M37.5,96.65H40.5M39.0,83.81H40.5M37.5,70.97H40.5M39.0,58.13H40.5M37.5,45.30H40.5M39.0,32.46H40.5M37.5,19.62H40.5M39.0,6.78H40.5M242.1,149.30H244.6M243.3,131.49H244.6M242.1,113.68H244.6M243.3,95.86H244.6M242.1,78.05H244.6M243.3,60.24H244.6M242.1,42.43H244.6M243.3,24.61H244.6M242.1,6.80H244.6M44.08,149.3V152.3M44.08,6.8V9.2M65.55,149.3V150.8M65.55,6.8V8.0M87.03,149.3V152.3M87.03,6.8V9.2M108.50,149.3V150.8M108.50,6.8V8.0M129.98,149.3V152.3M129.98,6.8V9.2M151.45,149.3V150.8M151.45,6.8V8.0M172.92,149.3V152.3M172.92,6.8V9.2M194.40,149.3V150.8M194.40,6.8V8.0M215.87,149.3V152.3M215.87,6.8V9.2M237.35,149.3V150.8M237.35,6.8V8.0" stroke="#5e5e5e" stroke-width="1" fill="none"/>
<text x="35.6" y="150.5" text-anchor="end" class="tl">0</text>
<text x="35.6" y="124.8" text-anchor="end" class="tl">20</text>
<text x="35.6" y="99.1" text-anchor="end" class="tl">40</text>
<text x="35.6" y="73.5" text-anchor="end" class="tl">60</text>
<text x="35.6" y="47.8" text-anchor="end" class="tl">80</text>
<text x="35.6" y="22.1" text-anchor="end" class="tl">100</text>
<text x="44.1" y="160.8" text-anchor="middle" class="tl">0</text>
<text x="87.0" y="160.8" text-anchor="middle" class="tl">60</text>
<text x="130.0" y="160.8" text-anchor="middle" class="tl">120</text>
<text x="172.9" y="160.8" text-anchor="middle" class="tl">180</text>
<text x="215.9" y="160.8" text-anchor="middle" class="tl">240</text>
<text x="248" y="151.9" class="tl">0</text>
<text x="248" y="116.3" class="tl">2</text>
<text x="248" y="80.7" class="tl">4</text>
<text x="248" y="45.0" class="tl">6</text>
<text x="248" y="9.4" class="tl">8</text>
<text x="225.2" y="168.6" class="xt">t [min]</text>
<text transform="translate(265.05,16.6) rotate(-90)" text-anchor="middle" class="ph">pH</text>
<text transform="translate(13.6,47.2) rotate(-90)" text-anchor="middle" class="yt">ritonavir [%]</text>
<text transform="translate(59.35,21.95) scale(0.85,1)" class="let">F</text>
<path d="M44.0,136.4 L65.7,136.4 L65.7,47.0 L66.4,49.5 L67.0,52.5 L67.6,53.6 L68.6,53.0 L70.0,51.6 L71.2,50.9 L108.3,50.9 L108.3,46.7 L113.7,46.7 L113.7,42.0 L118.0,42.0 L118.0,37.0 L122.7,37.0 L122.7,31.3 L127.7,31.3 L128.8,27.5 L239.0,27.5" stroke="#4848ff" stroke-width="1.05" fill="none"/>
<path d="M44.5,147.46V148.73M46.5,146.66V148.80M48.5,132.12V134.98M50.5,116.40V122.70M52.5,105.82V110.29M54.5,92.25V100.81M56.5,83.07V89.83M59.5,70.56V80.71M61.5,57.70V72.68M63.5,47.44V62.21M65.5,138.16V140.15M67.5,138.77V140.61M69.5,138.65V140.68M71.5,138.70V140.87M74.5,137.94V140.48M76.5,138.32V140.21M78.5,138.39V140.32M80.5,137.81V140.53M82.5,137.77V139.98M84.5,138.94V141.16M87.5,139.73V141.14M89.5,140.23V141.68M91.5,140.15V141.89M93.5,140.92V142.78M95.5,140.89V142.99M97.5,140.81V143.68M99.5,142.07V143.55M102.5,142.23V144.00M104.5,141.85V143.97M106.5,142.57V144.56M108.5,142.80V145.08M110.5,142.99V144.78M112.5,142.96V144.54M114.5,143.13V145.72M117.5,143.62V145.65M119.5,143.54V145.01M121.5,144.09V145.84M123.5,143.74V145.58M125.5,144.10V145.45M127.5,144.09V146.19M129.5,144.10V145.99M132.5,144.52V146.23M134.5,144.39V146.01M136.5,144.20V146.57M138.5,144.40V146.19M140.5,144.55V146.11M145.5,144.64V146.09M147.5,144.17V146.19M149.5,144.30V146.58M151.5,144.50V145.91M155.5,144.45V146.24M157.5,144.30V146.05M160.5,144.00V146.05M162.5,144.42V145.95M164.5,144.57V146.36M168.5,144.68V146.03M170.5,144.33V145.90M172.5,144.25V145.85M175.5,144.01V145.91M177.5,143.62V145.73M179.5,144.52V145.80M181.5,143.97V146.21M183.5,144.32V145.80M185.5,144.44V146.02M187.5,143.80V145.85M192.5,144.08V145.33M194.5,144.35V145.79M196.5,143.89V145.60M198.5,143.93V145.94M200.5,144.23V146.24M202.5,143.95V145.34M205.5,144.05V145.94M207.5,144.21V145.74M209.5,143.93V146.03M211.5,144.20V145.77M213.5,144.11V146.07M215.5,144.35V145.68M218.5,144.04V145.91M220.5,144.47V145.69M222.5,144.19V145.85M226.5,143.79V145.37M228.5,144.32V145.71M230.5,144.09V145.42M233.5,144.34V146.02M235.5,143.77V145.60M237.5,143.72V145.35" stroke="#5a5a5a" stroke-width="0.75" fill="none"/>
<path d="M44.08,148.10 L46.23,147.73 L48.37,133.55 L50.52,119.55 L52.67,108.06 L54.82,96.53 L56.96,86.45 L59.11,75.64 L61.26,65.19 L63.41,54.83 L65.55,139.16 L67.70,139.69 L69.85,139.67 L72.00,139.79 L74.14,139.21 L76.29,139.27 L78.44,139.36 L80.59,139.17 L82.73,138.88 L84.88,140.05 L87.03,140.44 L89.18,140.95 L91.32,141.02 L93.47,141.85 L95.62,141.94 L97.77,142.24 L99.91,142.81 L102.06,143.12 L104.21,142.91 L106.35,143.57 L108.50,143.94 L110.65,143.88 L112.80,143.75 L114.94,144.43 L117.09,144.63 L119.24,144.28 L121.39,144.97 L123.53,144.66 L125.68,144.77 L127.83,145.14 L129.98,145.05 L132.12,145.38 L134.27,145.20 L136.42,145.39 L138.57,145.30 L140.71,145.33 L142.86,145.40 L145.01,145.37 L147.16,145.18 L149.30,145.44 L151.45,145.21 L153.60,145.48 L155.74,145.34 L157.89,145.18 L160.04,145.02 L162.19,145.18 L164.33,145.47 L166.48,145.19 L168.63,145.36 L170.78,145.11 L172.92,145.05 L175.07,144.96 L177.22,144.67 L179.37,145.16 L181.51,145.09 L183.66,145.06 L185.81,145.23 L187.96,144.83 L190.10,145.41 L192.25,144.70 L194.40,145.07 L196.55,144.74 L198.69,144.93 L200.84,145.24 L202.99,144.64 L205.13,145.00 L207.28,144.97 L209.43,144.98 L211.58,144.98 L213.72,145.09 L215.87,145.01 L218.02,144.98 L220.17,145.08 L222.31,145.02 L224.46,144.83 L226.61,144.58 L228.76,145.02 L230.90,144.75 L233.05,145.18 L235.20,144.69 L237.35,144.53" stroke="#000" stroke-width="0.6" fill="none" stroke-linejoin="round"/>
<path d="M43.28,147.30h1.6v1.6h-1.6zM45.43,146.93h1.6v1.6h-1.6zM47.57,132.75h1.6v1.6h-1.6zM49.72,118.75h1.6v1.6h-1.6zM51.87,107.26h1.6v1.6h-1.6zM54.02,95.73h1.6v1.6h-1.6zM56.16,85.65h1.6v1.6h-1.6zM58.31,74.84h1.6v1.6h-1.6zM60.46,64.39h1.6v1.6h-1.6zM62.61,54.03h1.6v1.6h-1.6zM64.75,138.36h1.6v1.6h-1.6zM66.90,138.89h1.6v1.6h-1.6zM69.05,138.87h1.6v1.6h-1.6zM71.20,138.99h1.6v1.6h-1.6zM73.34,138.41h1.6v1.6h-1.6zM75.49,138.47h1.6v1.6h-1.6zM77.64,138.56h1.6v1.6h-1.6zM79.79,138.37h1.6v1.6h-1.6zM81.93,138.08h1.6v1.6h-1.6zM84.08,139.25h1.6v1.6h-1.6zM86.23,139.64h1.6v1.6h-1.6zM88.38,140.15h1.6v1.6h-1.6zM90.52,140.22h1.6v1.6h-1.6zM92.67,141.05h1.6v1.6h-1.6zM94.82,141.14h1.6v1.6h-1.6zM96.97,141.44h1.6v1.6h-1.6zM99.11,142.01h1.6v1.6h-1.6zM101.26,142.32h1.6v1.6h-1.6zM103.41,142.11h1.6v1.6h-1.6zM105.55,142.77h1.6v1.6h-1.6zM107.70,143.14h1.6v1.6h-1.6zM109.85,143.08h1.6v1.6h-1.6zM112.00,142.95h1.6v1.6h-1.6zM114.14,143.63h1.6v1.6h-1.6zM116.29,143.83h1.6v1.6h-1.6zM118.44,143.48h1.6v1.6h-1.6zM120.59,144.17h1.6v1.6h-1.6zM122.73,143.86h1.6v1.6h-1.6zM124.88,143.97h1.6v1.6h-1.6zM127.03,144.34h1.6v1.6h-1.6zM129.18,144.25h1.6v1.6h-1.6zM131.32,144.58h1.6v1.6h-1.6zM133.47,144.40h1.6v1.6h-1.6zM135.62,144.59h1.6v1.6h-1.6zM137.77,144.50h1.6v1.6h-1.6zM139.91,144.53h1.6v1.6h-1.6zM142.06,144.60h1.6v1.6h-1.6zM144.21,144.57h1.6v1.6h-1.6zM146.36,144.38h1.6v1.6h-1.6zM148.50,144.64h1.6v1.6h-1.6zM150.65,144.41h1.6v1.6h-1.6zM152.80,144.68h1.6v1.6h-1.6zM154.94,144.54h1.6v1.6h-1.6zM157.09,144.38h1.6v1.6h-1.6zM159.24,144.22h1.6v1.6h-1.6zM161.39,144.38h1.6v1.6h-1.6zM163.53,144.67h1.6v1.6h-1.6zM165.68,144.39h1.6v1.6h-1.6zM167.83,144.56h1.6v1.6h-1.6zM169.98,144.31h1.6v1.6h-1.6zM172.12,144.25h1.6v1.6h-1.6zM174.27,144.16h1.6v1.6h-1.6zM176.42,143.87h1.6v1.6h-1.6zM178.57,144.36h1.6v1.6h-1.6zM180.71,144.29h1.6v1.6h-1.6zM182.86,144.26h1.6v1.6h-1.6zM185.01,144.43h1.6v1.6h-1.6zM187.16,144.03h1.6v1.6h-1.6zM189.30,144.61h1.6v1.6h-1.6zM191.45,143.90h1.6v1.6h-1.6zM193.60,144.27h1.6v1.6h-1.6zM195.75,143.94h1.6v1.6h-1.6zM197.89,144.13h1.6v1.6h-1.6zM200.04,144.44h1.6v1.6h-1.6zM202.19,143.84h1.6v1.6h-1.6zM204.33,144.20h1.6v1.6h-1.6zM206.48,144.17h1.6v1.6h-1.6zM208.63,144.18h1.6v1.6h-1.6zM210.78,144.18h1.6v1.6h-1.6zM212.92,144.29h1.6v1.6h-1.6zM215.07,144.21h1.6v1.6h-1.6zM217.22,144.18h1.6v1.6h-1.6zM219.37,144.28h1.6v1.6h-1.6zM221.51,144.22h1.6v1.6h-1.6zM223.66,144.03h1.6v1.6h-1.6zM225.81,143.78h1.6v1.6h-1.6zM227.96,144.22h1.6v1.6h-1.6zM230.10,143.95h1.6v1.6h-1.6zM232.25,144.38h1.6v1.6h-1.6zM234.40,143.89h1.6v1.6h-1.6zM236.55,143.73h1.6v1.6h-1.6z" fill="#000"/>
<path d="M95.5,141.18V142.65M97.5,139.51V142.63M99.5,135.89V140.54M102.5,131.36V137.50M104.5,123.65V131.55M106.5,115.67V125.98M108.5,109.77V121.93M110.5,103.63V117.70M112.5,97.84V111.89M114.5,92.54V106.98M117.5,88.21V101.84M119.5,84.55V97.09M121.5,79.99V93.18M123.5,75.58V90.53M125.5,72.64V86.57M127.5,70.54V83.48M129.5,68.43V81.30M132.5,66.41V79.14M134.5,64.46V76.73M136.5,62.70V75.18M138.5,61.23V73.79M140.5,59.74V72.49M142.5,59.01V70.85M145.5,58.10V70.02M147.5,57.31V69.25M149.5,56.16V68.37M151.5,55.30V68.18M153.5,54.94V66.75M155.5,52.98V66.66M157.5,52.28V64.99M160.5,51.15V64.24M162.5,50.74V62.63M164.5,50.05V62.32M166.5,49.85V62.06M168.5,49.10V61.71M170.5,49.33V60.67M172.5,48.48V61.47M175.5,48.77V60.42M177.5,47.76V60.77M179.5,46.97V60.43M181.5,46.98V59.80M183.5,46.70V59.49M185.5,46.16V59.00M187.5,45.53V58.38M190.5,45.62V58.82M192.5,44.85V58.53M194.5,44.66V58.21M196.5,43.97V58.14M198.5,44.07V57.36M200.5,44.17V57.10M202.5,43.96V56.96M205.5,43.74V56.27M207.5,43.36V56.51M209.5,43.40V56.46M211.5,42.60V57.31M213.5,42.76V56.66M215.5,42.04V56.86M218.5,43.03V55.38M220.5,42.65V56.54M222.5,41.98V56.41M224.5,42.20V56.20M226.5,42.29V55.80M228.5,41.80V55.78M230.5,42.28V56.26M233.5,41.97V56.03M235.5,41.94V56.13M237.5,41.33V56.04" stroke="#ff7b7b" stroke-width="0.9" fill="none"/>
<path d="M44.08,147.94 L46.23,148.01 L48.37,148.08 L50.52,148.05 L52.67,147.96 L54.82,148.20 L56.96,147.82 L59.11,148.02 L61.26,147.73 L63.41,148.26 L65.55,147.86 L67.70,147.92 L69.85,148.10 L72.00,147.65 L74.14,147.13 L76.29,146.55 L78.44,146.36 L80.59,146.28 L82.73,145.57 L84.88,145.38 L87.03,144.81 L89.18,143.90 L91.32,143.04 L93.47,142.51 L95.62,141.92 L97.77,141.07 L99.91,138.21 L102.06,134.43 L104.21,127.60 L106.35,120.83 L108.50,115.85 L110.65,110.67 L112.80,104.86 L114.94,99.76 L117.09,95.02 L119.24,90.82 L121.39,86.59 L123.53,83.05 L125.68,79.61 L127.83,77.01 L129.98,74.86 L132.12,72.77 L134.27,70.59 L136.42,68.94 L138.57,67.51 L140.71,66.11 L142.86,64.93 L145.01,64.06 L147.16,63.28 L149.30,62.26 L151.45,61.74 L153.60,60.85 L155.74,59.82 L157.89,58.64 L160.04,57.69 L162.19,56.69 L164.33,56.19 L166.48,55.96 L168.63,55.40 L170.78,55.00 L172.92,54.97 L175.07,54.60 L177.22,54.27 L179.37,53.70 L181.51,53.39 L183.66,53.09 L185.81,52.58 L187.96,51.95 L190.10,52.22 L192.25,51.69 L194.40,51.44 L196.55,51.05 L198.69,50.71 L200.84,50.64 L202.99,50.46 L205.13,50.01 L207.28,49.93 L209.43,49.93 L211.58,49.96 L213.72,49.71 L215.87,49.45 L218.02,49.21 L220.17,49.59 L222.31,49.19 L224.46,49.20 L226.61,49.04 L228.76,48.79 L230.90,49.27 L233.05,49.00 L235.20,49.04 L237.35,48.69" stroke="#f00" stroke-width="0.7" fill="none" stroke-linejoin="round"/>
<path d="M43.23,147.09h1.7v1.7h-1.7zM45.38,147.16h1.7v1.7h-1.7zM47.52,147.23h1.7v1.7h-1.7zM49.67,147.20h1.7v1.7h-1.7zM51.82,147.11h1.7v1.7h-1.7zM53.97,147.35h1.7v1.7h-1.7zM56.11,146.97h1.7v1.7h-1.7zM58.26,147.17h1.7v1.7h-1.7zM60.41,146.88h1.7v1.7h-1.7zM62.56,147.41h1.7v1.7h-1.7zM64.70,147.01h1.7v1.7h-1.7zM66.85,147.07h1.7v1.7h-1.7zM69.00,147.25h1.7v1.7h-1.7zM71.15,146.80h1.7v1.7h-1.7zM73.29,146.28h1.7v1.7h-1.7zM75.44,145.70h1.7v1.7h-1.7zM77.59,145.51h1.7v1.7h-1.7zM79.74,145.43h1.7v1.7h-1.7zM81.88,144.72h1.7v1.7h-1.7zM84.03,144.53h1.7v1.7h-1.7zM86.18,143.96h1.7v1.7h-1.7zM88.33,143.05h1.7v1.7h-1.7zM90.47,142.19h1.7v1.7h-1.7zM92.62,141.66h1.7v1.7h-1.7zM94.77,141.07h1.7v1.7h-1.7zM96.92,140.22h1.7v1.7h-1.7zM99.06,137.36h1.7v1.7h-1.7zM101.21,133.58h1.7v1.7h-1.7zM103.36,126.75h1.7v1.7h-1.7zM105.50,119.98h1.7v1.7h-1.7zM107.65,115.00h1.7v1.7h-1.7zM109.80,109.82h1.7v1.7h-1.7zM111.95,104.01h1.7v1.7h-1.7zM114.09,98.91h1.7v1.7h-1.7zM116.24,94.17h1.7v1.7h-1.7zM118.39,89.97h1.7v1.7h-1.7zM120.54,85.74h1.7v1.7h-1.7zM122.68,82.20h1.7v1.7h-1.7zM124.83,78.76h1.7v1.7h-1.7zM126.98,76.16h1.7v1.7h-1.7zM129.13,74.01h1.7v1.7h-1.7zM131.27,71.92h1.7v1.7h-1.7zM133.42,69.74h1.7v1.7h-1.7zM135.57,68.09h1.7v1.7h-1.7zM137.72,66.66h1.7v1.7h-1.7zM139.86,65.26h1.7v1.7h-1.7zM142.01,64.08h1.7v1.7h-1.7zM144.16,63.21h1.7v1.7h-1.7zM146.31,62.43h1.7v1.7h-1.7zM148.45,61.41h1.7v1.7h-1.7zM150.60,60.89h1.7v1.7h-1.7zM152.75,60.00h1.7v1.7h-1.7zM154.89,58.97h1.7v1.7h-1.7zM157.04,57.79h1.7v1.7h-1.7zM159.19,56.84h1.7v1.7h-1.7zM161.34,55.84h1.7v1.7h-1.7zM163.48,55.34h1.7v1.7h-1.7zM165.63,55.11h1.7v1.7h-1.7zM167.78,54.55h1.7v1.7h-1.7zM169.93,54.15h1.7v1.7h-1.7zM172.07,54.12h1.7v1.7h-1.7zM174.22,53.75h1.7v1.7h-1.7zM176.37,53.42h1.7v1.7h-1.7zM178.52,52.85h1.7v1.7h-1.7zM180.66,52.54h1.7v1.7h-1.7zM182.81,52.24h1.7v1.7h-1.7zM184.96,51.73h1.7v1.7h-1.7zM187.11,51.10h1.7v1.7h-1.7zM189.25,51.37h1.7v1.7h-1.7zM191.40,50.84h1.7v1.7h-1.7zM193.55,50.59h1.7v1.7h-1.7zM195.70,50.20h1.7v1.7h-1.7zM197.84,49.86h1.7v1.7h-1.7zM199.99,49.79h1.7v1.7h-1.7zM202.14,49.61h1.7v1.7h-1.7zM204.28,49.16h1.7v1.7h-1.7zM206.43,49.08h1.7v1.7h-1.7zM208.58,49.08h1.7v1.7h-1.7zM210.73,49.11h1.7v1.7h-1.7zM212.87,48.86h1.7v1.7h-1.7zM215.02,48.60h1.7v1.7h-1.7zM217.17,48.36h1.7v1.7h-1.7zM219.32,48.74h1.7v1.7h-1.7zM221.46,48.34h1.7v1.7h-1.7zM223.61,48.35h1.7v1.7h-1.7zM225.76,48.19h1.7v1.7h-1.7zM227.91,47.94h1.7v1.7h-1.7zM230.05,48.42h1.7v1.7h-1.7zM232.20,48.15h1.7v1.7h-1.7zM234.35,48.19h1.7v1.7h-1.7zM236.50,47.84h1.7v1.7h-1.7z" fill="#f00"/>
</g>
</svg></body></html>
